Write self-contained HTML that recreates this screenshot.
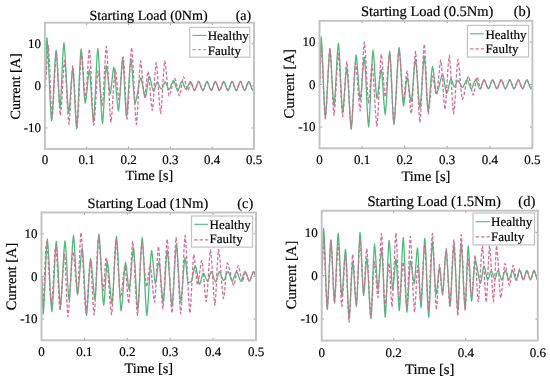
<!DOCTYPE html>
<html><head><meta charset="utf-8"><title>Starting Load</title>
<style>html,body{margin:0;padding:0;background:#fff;}body{width:550px;height:381px;overflow:hidden;}svg{display:block;text-rendering:geometricPrecision;}</style>
</head><body>
<svg width="550" height="381" viewBox="0 0 550 381">
<rect width="550" height="381" fill="#fff"/>
<defs><clipPath id="c0"><rect x="44.9" y="22.7" width="209.1" height="126.3"/></clipPath></defs>
<g clip-path="url(#c0)" fill="none" stroke-linejoin="round">
<path d="M45.1 85.5 L45.46 79.23 L45.82 68.18 L46.18 55.32 L46.54 44.27 L46.9 38 L47.26 41 L47.62 45.52 L47.98 51.42 L48.35 58.49 L48.71 66.44 L49.07 74.95 L49.43 83.65 L49.79 92.16 L50.15 100.11 L50.52 107.18 L50.88 113.08 L51.24 117.6 L51.6 120.6 L51.98 117.78 L52.35 113.45 L52.73 107.78 L53.1 101 L53.48 93.45 L53.85 85.5 L54.23 77.55 L54.6 70 L54.98 63.22 L55.35 57.55 L55.73 53.22 L56.1 50.4 L56.45 53 L56.81 57.07 L57.16 62.42 L57.52 68.77 L57.87 75.75 L58.23 82.95 L58.58 89.93 L58.94 96.28 L59.29 101.63 L59.65 105.7 L60 108.3 L60.35 105.35 L60.71 100.75 L61.06 94.7 L61.42 87.52 L61.77 79.62 L62.13 71.48 L62.48 63.58 L62.84 56.4 L63.19 50.35 L63.55 45.75 L63.9 42.8 L64.27 45.37 L64.64 49.23 L65.01 54.27 L65.38 60.31 L65.75 67.11 L66.12 74.38 L66.48 81.82 L66.85 89.09 L67.22 95.89 L67.59 101.93 L67.96 106.97 L68.33 110.83 L68.7 113.4 L69.07 111.38 L69.45 108.23 L69.82 104.08 L70.19 99.15 L70.56 93.74 L70.94 88.16 L71.31 82.75 L71.68 77.82 L72.05 73.67 L72.43 70.52 L72.8 68.5 L73.15 71.2 L73.51 75.43 L73.86 80.98 L74.22 87.57 L74.57 94.81 L74.93 102.29 L75.28 109.53 L75.64 116.12 L75.99 121.67 L76.35 125.9 L76.7 128.6 L77.07 125.39 L77.43 120.48 L77.8 114.04 L78.17 106.35 L78.53 97.78 L78.9 88.75 L79.27 79.72 L79.63 71.15 L80 63.46 L80.37 57.02 L80.73 52.11 L81.1 48.9 L81.47 51.34 L81.85 55.16 L82.22 60.17 L82.59 66.13 L82.96 72.67 L83.34 79.43 L83.71 85.97 L84.08 91.93 L84.45 96.94 L84.83 100.76 L85.2 103.2 L85.55 101.86 L85.9 99.82 L86.25 97.13 L86.6 93.93 L86.95 90.36 L87.3 86.6 L87.65 82.84 L88 79.27 L88.35 76.07 L88.7 73.38 L89.05 71.34 L89.4 70 L89.77 72.34 L90.15 76 L90.52 80.82 L90.89 86.53 L91.26 92.81 L91.64 99.29 L92.01 105.57 L92.38 111.28 L92.75 116.1 L93.13 119.76 L93.5 122.1 L93.86 119.14 L94.22 114.61 L94.58 108.67 L94.93 101.58 L95.29 93.68 L95.65 85.35 L96.01 77.02 L96.37 69.12 L96.72 62.03 L97.08 56.09 L97.44 51.56 L97.8 48.6 L98.16 51.32 L98.52 55.42 L98.88 60.77 L99.25 67.18 L99.61 74.39 L99.97 82.11 L100.33 89.99 L100.69 97.71 L101.05 104.92 L101.42 111.33 L101.78 116.68 L102.14 120.78 L102.5 123.5 L102.88 120.55 L103.26 115.85 L103.64 109.66 L104.02 102.39 L104.4 94.55 L104.78 86.71 L105.16 79.44 L105.54 73.25 L105.92 68.55 L106.3 65.6 L106.65 66.86 L107.01 68.84 L107.36 71.43 L107.72 74.52 L108.07 77.9 L108.43 81.4 L108.78 84.78 L109.14 87.87 L109.49 90.46 L109.85 92.44 L110.2 93.7 L110.56 92.35 L110.92 90.19 L111.28 87.34 L111.64 84 L112 80.4 L112.36 76.8 L112.72 73.46 L113.08 70.61 L113.44 68.45 L113.8 67.1 L114.16 68.69 L114.52 71.09 L114.88 74.22 L115.25 77.97 L115.61 82.18 L115.97 86.69 L116.33 91.31 L116.69 95.82 L117.05 100.03 L117.42 103.78 L117.78 106.91 L118.14 109.31 L118.5 110.9 L118.85 108.75 L119.2 105.46 L119.55 101.14 L119.9 95.99 L120.25 90.25 L120.6 84.2 L120.95 78.15 L121.3 72.41 L121.65 67.26 L122 62.94 L122.35 59.65 L122.7 57.5 L123.08 60.49 L123.46 65.27 L123.84 71.55 L124.22 78.94 L124.6 86.9 L124.98 94.86 L125.36 102.25 L125.74 108.53 L126.12 113.31 L126.5 116.3 L126.87 113.97 L127.23 110.4 L127.6 105.72 L127.97 100.14 L128.33 93.91 L128.7 87.35 L129.07 80.79 L129.43 74.56 L129.8 68.98 L130.17 64.3 L130.53 60.73 L130.9 58.4 L131.27 60.42 L131.65 63.56 L132.02 67.7 L132.39 72.61 L132.76 78.02 L133.14 83.58 L133.51 88.99 L133.88 93.9 L134.25 98.04 L134.63 101.18 L135 103.2 L135.36 102.49 L135.71 101.47 L136.07 100.17 L136.43 98.6 L136.78 96.8 L137.14 94.84 L137.49 92.75 L137.85 90.6 L138.21 88.45 L138.56 86.36 L138.92 84.4 L139.27 82.6 L139.63 81.03 L139.99 79.73 L140.34 78.71 L140.7 78 L141.06 78.7 L141.42 79.76 L141.78 81.14 L142.15 82.79 L142.51 84.65 L142.87 86.63 L143.23 88.67 L143.59 90.65 L143.95 92.51 L144.32 94.16 L144.68 95.54 L145.04 96.6 L145.4 97.3 L145.78 96.24 L146.16 94.54 L146.54 92.31 L146.92 89.68 L147.3 86.85 L147.68 84.02 L148.06 81.39 L148.44 79.16 L148.82 77.46 L149.2 76.4 L149.57 77 L149.93 77.92 L150.3 79.12 L150.67 80.56 L151.03 82.16 L151.4 83.85 L151.77 85.54 L152.13 87.14 L152.5 88.58 L152.87 89.78 L153.23 90.7 L153.6 91.3 L153.98 90.79 L154.36 89.95 L154.73 88.84 L155.11 87.57 L155.49 86.23 L155.87 84.96 L156.24 83.85 L156.62 83.01 L157 82.5 L157.37 82.76 L157.73 83.16 L158.1 83.69 L158.47 84.31 L158.83 85.01 L159.2 85.75 L159.57 86.49 L159.93 87.19 L160.3 87.81 L160.67 88.34 L161.03 88.74 L161.4 89 L161.78 88.64 L162.16 88.06 L162.54 87.3 L162.92 86.41 L163.3 85.45 L163.68 84.49 L164.06 83.6 L164.44 82.84 L164.82 82.26 L165.2 81.9 L165.58 82.29 L165.96 82.92 L166.34 83.74 L166.72 84.71 L167.1 85.75 L167.48 86.79 L167.86 87.76 L168.24 88.58 L168.62 89.21 L169 89.6 L169.38 89.23 L169.75 88.67 L170.12 87.94 L170.5 87.06 L170.88 86.08 L171.25 85.05 L171.62 84.02 L172 83.04 L172.38 82.16 L172.75 81.43 L173.12 80.87 L173.5 80.5 L173.88 80.96 L174.26 81.68 L174.65 82.62 L175.03 83.74 L175.41 84.97 L175.79 86.23 L176.17 87.46 L176.55 88.58 L176.94 89.52 L177.32 90.24 L177.7 90.7 L178.07 90.28 L178.45 89.63 L178.82 88.77 L179.19 87.75 L179.56 86.63 L179.94 85.47 L180.31 84.35 L180.68 83.33 L181.05 82.47 L181.43 81.82 L181.8 81.4 L182.17 81.73 L182.53 82.24 L182.9 82.9 L183.27 83.69 L183.63 84.57 L184 85.5 L184.37 86.43 L184.73 87.31 L185.1 88.1 L185.47 88.76 L185.83 89.27 L186.2 89.6 L186.57 89.24 L186.95 88.67 L187.32 87.92 L187.69 87.03 L188.06 86.05 L188.44 85.05 L188.81 84.07 L189.18 83.18 L189.55 82.43 L189.93 81.86 L190.3 81.5 L190.68 81.9 L191.06 82.54 L191.44 83.37 L191.82 84.36 L192.2 85.44 L192.58 86.56 L192.96 87.64 L193.34 88.63 L193.72 89.46 L194.1 90.1 L194.48 90.5 L194.86 90.1 L195.24 89.46 L195.62 88.63 L196 87.64 L196.38 86.56 L196.76 85.44 L197.14 84.36 L197.52 83.37 L197.9 82.54 L198.28 81.9 L198.66 81.5 L199.04 81.9 L199.42 82.54 L199.8 83.37 L200.18 84.36 L200.56 85.44 L200.94 86.56 L201.32 87.64 L201.7 88.63 L202.08 89.46 L202.46 90.1 L202.84 90.5 L203.22 90.1 L203.6 89.46 L203.98 88.63 L204.36 87.64 L204.74 86.56 L205.12 85.44 L205.5 84.36 L205.88 83.37 L206.26 82.54 L206.64 81.9 L207.02 81.5 L207.4 81.9 L207.78 82.54 L208.16 83.37 L208.54 84.36 L208.92 85.44 L209.3 86.56 L209.68 87.64 L210.06 88.63 L210.44 89.46 L210.82 90.1 L211.2 90.5 L211.58 90.1 L211.96 89.46 L212.34 88.63 L212.72 87.64 L213.1 86.56 L213.48 85.44 L213.86 84.36 L214.24 83.37 L214.62 82.54 L215 81.9 L215.38 81.5 L215.76 81.9 L216.14 82.54 L216.52 83.37 L216.9 84.36 L217.28 85.44 L217.66 86.56 L218.04 87.64 L218.42 88.63 L218.8 89.46 L219.18 90.1 L219.56 90.5 L219.94 90.1 L220.32 89.46 L220.7 88.63 L221.08 87.64 L221.46 86.56 L221.84 85.44 L222.22 84.36 L222.6 83.37 L222.98 82.54 L223.36 81.9 L223.74 81.5 L224.12 81.9 L224.5 82.54 L224.88 83.37 L225.26 84.36 L225.64 85.44 L226.02 86.56 L226.4 87.64 L226.78 88.63 L227.16 89.46 L227.54 90.1 L227.92 90.5 L228.3 90.1 L228.68 89.46 L229.06 88.63 L229.44 87.64 L229.82 86.56 L230.2 85.44 L230.58 84.36 L230.96 83.37 L231.34 82.54 L231.72 81.9 L232.1 81.5 L232.48 81.9 L232.86 82.54 L233.24 83.37 L233.62 84.36 L234 85.44 L234.38 86.56 L234.76 87.64 L235.14 88.63 L235.52 89.46 L235.9 90.1 L236.28 90.5 L236.66 90.1 L237.04 89.46 L237.42 88.63 L237.8 87.64 L238.18 86.56 L238.56 85.44 L238.94 84.36 L239.32 83.37 L239.7 82.54 L240.08 81.9 L240.46 81.5 L240.84 81.9 L241.22 82.54 L241.6 83.37 L241.98 84.36 L242.36 85.44 L242.74 86.56 L243.12 87.64 L243.5 88.63 L243.88 89.46 L244.26 90.1 L244.64 90.5 L245.02 90.1 L245.4 89.46 L245.78 88.63 L246.16 87.64 L246.54 86.56 L246.92 85.44 L247.3 84.36 L247.68 83.37 L248.06 82.54 L248.44 81.9 L248.82 81.5 L249.2 81.9 L249.58 82.54 L249.96 83.37 L250.34 84.36 L250.72 85.44 L251.1 86.56 L251.48 87.64 L251.86 88.63 L252.24 89.46 L252.62 90.1 L253 90.5 L253.38 90.1 L253.76 89.46 L254.14 88.63 L254.52 87.64 L254.9 86.56 L255.28 85.44 L255.66 84.36 L256.04 83.37 L256.42 82.54 L256.8 81.9 L257.18 81.5 L257.56 81.9 L257.94 82.54 L258.32 83.37 L258.7 84.36 L259.08 85.44 L259.46 86.56 L259.84 87.64 L260.22 88.63 L260.6 89.46 L260.98 90.1 L261.36 90.5" stroke="#4fb97c" stroke-width="1.3"/>
<path d="M45.1 85.5 L45.47 83.17 L45.83 79.36 L46.2 74.36 L46.57 68.58 L46.93 62.52 L47.3 56.74 L47.67 51.74 L48.03 47.93 L48.4 45.6 L48.76 49.31 L49.12 55.23 L49.48 63.02 L49.84 72.18 L50.2 82.05 L50.56 91.92 L50.92 101.08 L51.28 108.87 L51.64 114.79 L52 118.5 L52.37 115.82 L52.73 111.7 L53.1 106.31 L53.47 99.88 L53.83 92.71 L54.2 85.15 L54.57 77.59 L54.93 70.42 L55.3 63.99 L55.67 58.6 L56.03 54.48 L56.4 51.8 L56.76 54.67 L57.13 59.14 L57.49 65.03 L57.85 72.01 L58.22 79.69 L58.58 87.61 L58.95 95.29 L59.31 102.27 L59.67 108.16 L60.04 112.63 L60.4 115.5 L60.77 113.03 L61.15 109.16 L61.52 104.08 L61.89 98.05 L62.26 91.42 L62.64 84.58 L63.01 77.95 L63.38 71.92 L63.75 66.84 L64.13 62.97 L64.5 60.5 L64.88 63.07 L65.25 67 L65.62 72.16 L66 78.31 L66.38 85.17 L66.75 92.4 L67.12 99.63 L67.5 106.49 L67.88 112.64 L68.25 117.8 L68.62 121.73 L69 124.3 L69.38 121.31 L69.76 116.55 L70.14 110.27 L70.52 102.9 L70.9 94.95 L71.28 87 L71.66 79.63 L72.04 73.35 L72.42 68.59 L72.8 65.6 L73.15 68.08 L73.5 71.88 L73.85 76.85 L74.2 82.8 L74.55 89.42 L74.9 96.4 L75.25 103.38 L75.6 110 L75.95 115.95 L76.3 120.92 L76.65 124.72 L77 127.2 L77.38 124.19 L77.75 119.59 L78.12 113.55 L78.5 106.35 L78.88 98.31 L79.25 89.85 L79.62 81.39 L80 73.35 L80.38 66.15 L80.75 60.11 L81.12 55.51 L81.5 52.5 L81.86 54.61 L82.23 57.92 L82.59 62.26 L82.95 67.41 L83.32 73.08 L83.68 78.92 L84.05 84.59 L84.41 89.74 L84.77 94.08 L85.14 97.39 L85.5 99.5 L85.85 97.22 L86.21 93.67 L86.56 88.99 L86.92 83.45 L87.27 77.35 L87.63 71.05 L87.98 64.95 L88.34 59.41 L88.69 54.73 L89.05 51.18 L89.4 48.9 L89.77 51.96 L90.13 56.65 L90.5 62.8 L90.87 70.14 L91.23 78.33 L91.6 86.95 L91.97 95.57 L92.33 103.76 L92.7 111.1 L93.07 117.25 L93.43 121.94 L93.8 125 L94.15 122.81 L94.5 119.47 L94.85 115.08 L95.2 109.84 L95.55 104 L95.9 97.85 L96.25 91.7 L96.6 85.86 L96.95 80.62 L97.3 76.23 L97.65 72.89 L98 70.7 L98.36 72.1 L98.72 74.24 L99.08 77.04 L99.43 80.39 L99.79 84.12 L100.15 88.05 L100.51 91.98 L100.87 95.71 L101.22 99.06 L101.58 101.86 L101.94 104 L102.3 105.4 L102.66 102.74 L103.03 98.59 L103.39 93.13 L103.75 86.65 L104.12 79.52 L104.48 72.18 L104.85 65.05 L105.21 58.57 L105.57 53.11 L105.94 48.96 L106.3 46.3 L106.65 49.06 L107.01 53.2 L107.36 58.62 L107.72 65.1 L108.07 72.4 L108.42 80.21 L108.78 88.19 L109.13 96 L109.48 103.3 L109.84 109.78 L110.19 115.2 L110.55 119.34 L110.9 122.1 L111.27 119.98 L111.63 116.72 L112 112.45 L112.37 107.36 L112.73 101.68 L113.1 95.7 L113.47 89.72 L113.83 84.04 L114.2 78.95 L114.57 74.68 L114.93 71.42 L115.3 69.3 L115.67 70.84 L116.04 73.29 L116.41 76.52 L116.78 80.31 L117.15 84.4 L117.52 88.49 L117.89 92.28 L118.26 95.51 L118.63 97.96 L119 99.5 L119.36 97.79 L119.72 95.17 L120.08 91.74 L120.43 87.64 L120.79 83.06 L121.15 78.25 L121.51 73.44 L121.87 68.86 L122.22 64.76 L122.58 61.33 L122.94 58.71 L123.3 57 L123.67 60.17 L124.04 65.21 L124.41 71.86 L124.78 79.68 L125.15 88.1 L125.52 96.52 L125.89 104.34 L126.26 110.99 L126.63 116.03 L127 119.2 L127.35 116.59 L127.71 112.67 L128.06 107.55 L128.42 101.41 L128.77 94.51 L129.12 87.12 L129.48 79.58 L129.83 72.19 L130.18 65.29 L130.54 59.15 L130.89 54.03 L131.25 50.11 L131.6 47.5 L131.97 50.29 L132.34 54.49 L132.71 59.98 L133.08 66.55 L133.45 73.95 L133.82 81.86 L134.18 89.94 L134.55 97.85 L134.92 105.25 L135.29 111.82 L135.66 117.31 L136.03 121.51 L136.4 124.3 L136.78 121.45 L137.16 117.01 L137.55 111.16 L137.93 104.22 L138.31 96.58 L138.69 88.72 L139.07 81.08 L139.45 74.14 L139.84 68.29 L140.22 63.85 L140.6 61 L140.95 62.62 L141.31 65.15 L141.66 68.47 L142.02 72.42 L142.37 76.76 L142.73 81.24 L143.08 85.58 L143.44 89.53 L143.79 92.85 L144.15 95.38 L144.5 97 L144.86 95.7 L145.22 93.62 L145.58 90.88 L145.94 87.67 L146.3 84.2 L146.66 80.73 L147.02 77.52 L147.38 74.78 L147.74 72.7 L148.1 71.4 L148.45 72.97 L148.8 75.38 L149.15 78.54 L149.5 82.32 L149.85 86.52 L150.2 90.95 L150.55 95.38 L150.9 99.58 L151.25 103.36 L151.6 106.52 L151.95 108.93 L152.3 110.5 L152.65 108.35 L153.01 104.98 L153.36 100.55 L153.72 95.3 L154.07 89.53 L154.43 83.57 L154.78 77.8 L155.14 72.55 L155.49 68.12 L155.85 64.75 L156.2 62.6 L156.57 64.64 L156.95 67.78 L157.32 71.88 L157.7 76.78 L158.07 82.25 L158.45 88 L158.82 93.75 L159.2 99.22 L159.57 104.12 L159.95 108.22 L160.32 111.36 L160.7 113.4 L161.06 111.04 L161.43 107.36 L161.79 102.52 L162.15 96.78 L162.52 90.46 L162.88 83.94 L163.25 77.62 L163.61 71.88 L163.97 67.04 L164.34 63.36 L164.7 61 L165.06 62.4 L165.42 64.55 L165.77 67.36 L166.13 70.72 L166.49 74.46 L166.85 78.4 L167.21 82.34 L167.57 86.08 L167.93 89.44 L168.28 92.25 L168.64 94.4 L169 95.8 L169.36 95.31 L169.72 94.62 L170.09 93.72 L170.45 92.64 L170.81 91.41 L171.18 90.06 L171.54 88.63 L171.9 87.15 L172.26 85.67 L172.62 84.24 L172.99 82.89 L173.35 81.66 L173.71 80.58 L174.08 79.68 L174.44 78.99 L174.8 78.5 L175.15 79.13 L175.51 80.08 L175.86 81.31 L176.22 82.79 L176.57 84.46 L176.92 86.24 L177.28 88.06 L177.63 89.84 L177.98 91.51 L178.34 92.99 L178.69 94.22 L179.05 95.17 L179.4 95.8 L179.77 94.95 L180.15 93.61 L180.52 91.86 L180.89 89.77 L181.26 87.48 L181.64 85.12 L182.01 82.83 L182.38 80.74 L182.75 78.99 L183.13 77.65 L183.5 76.8 L183.88 77.36 L184.25 78.21 L184.62 79.32 L185 80.65 L185.38 82.14 L185.75 83.7 L186.12 85.26 L186.5 86.75 L186.88 88.08 L187.25 89.19 L187.62 90.04 L188 90.6 L188.35 90.01 L188.7 89.03 L189.05 87.75 L189.4 86.3 L189.75 84.85 L190.1 83.57 L190.45 82.59 L190.8 82 L191.17 82.43 L191.54 83.12 L191.91 84.03 L192.28 85.1 L192.65 86.25 L193.02 87.4 L193.39 88.47 L193.76 89.38 L194.13 90.07 L194.5 90.5 L194.88 90.1 L195.26 89.46 L195.63 88.63 L196.01 87.64 L196.39 86.56 L196.77 85.44 L197.15 84.36 L197.53 83.37 L197.9 82.54 L198.28 81.9 L198.66 81.5 L199.04 81.9 L199.42 82.54 L199.8 83.37 L200.18 84.36 L200.56 85.44 L200.94 86.56 L201.32 87.64 L201.7 88.63 L202.08 89.46 L202.46 90.1 L202.84 90.5 L203.22 90.1 L203.6 89.46 L203.98 88.63 L204.36 87.64 L204.74 86.56 L205.12 85.44 L205.5 84.36 L205.88 83.37 L206.26 82.54 L206.64 81.9 L207.02 81.5 L207.4 81.9 L207.78 82.54 L208.16 83.37 L208.54 84.36 L208.92 85.44 L209.3 86.56 L209.68 87.64 L210.06 88.63 L210.44 89.46 L210.82 90.1 L211.2 90.5 L211.58 90.1 L211.96 89.46 L212.34 88.63 L212.72 87.64 L213.1 86.56 L213.48 85.44 L213.86 84.36 L214.24 83.37 L214.62 82.54 L215 81.9 L215.38 81.5 L215.76 81.9 L216.14 82.54 L216.52 83.37 L216.9 84.36 L217.28 85.44 L217.66 86.56 L218.04 87.64 L218.42 88.63 L218.8 89.46 L219.18 90.1 L219.56 90.5 L219.94 90.1 L220.32 89.46 L220.7 88.63 L221.08 87.64 L221.46 86.56 L221.84 85.44 L222.22 84.36 L222.6 83.37 L222.98 82.54 L223.36 81.9 L223.74 81.5 L224.12 81.9 L224.5 82.54 L224.88 83.37 L225.26 84.36 L225.64 85.44 L226.02 86.56 L226.4 87.64 L226.78 88.63 L227.16 89.46 L227.54 90.1 L227.92 90.5 L228.3 90.1 L228.68 89.46 L229.06 88.63 L229.44 87.64 L229.82 86.56 L230.2 85.44 L230.58 84.36 L230.96 83.37 L231.34 82.54 L231.72 81.9 L232.1 81.5 L232.48 81.9 L232.86 82.54 L233.24 83.37 L233.62 84.36 L234 85.44 L234.38 86.56 L234.76 87.64 L235.14 88.63 L235.52 89.46 L235.9 90.1 L236.28 90.5 L236.66 90.1 L237.04 89.46 L237.42 88.63 L237.8 87.64 L238.18 86.56 L238.56 85.44 L238.94 84.36 L239.32 83.37 L239.7 82.54 L240.08 81.9 L240.46 81.5 L240.84 81.9 L241.22 82.54 L241.6 83.37 L241.98 84.36 L242.36 85.44 L242.74 86.56 L243.12 87.64 L243.5 88.63 L243.88 89.46 L244.26 90.1 L244.64 90.5 L245.02 90.1 L245.4 89.46 L245.78 88.63 L246.16 87.64 L246.54 86.56 L246.92 85.44 L247.3 84.36 L247.68 83.37 L248.06 82.54 L248.44 81.9 L248.82 81.5 L249.2 81.9 L249.58 82.54 L249.96 83.37 L250.34 84.36 L250.72 85.44 L251.1 86.56 L251.48 87.64 L251.86 88.63 L252.24 89.46 L252.62 90.1 L253 90.5 L253.38 90.1 L253.76 89.46 L254.14 88.63 L254.52 87.64 L254.9 86.56 L255.28 85.44 L255.66 84.36 L256.04 83.37 L256.42 82.54 L256.8 81.9 L257.18 81.5 L257.56 81.9 L257.94 82.54 L258.32 83.37 L258.7 84.36 L259.08 85.44 L259.46 86.56 L259.84 87.64 L260.22 88.63 L260.6 89.46 L260.98 90.1 L261.36 90.5" stroke="#d36f95" stroke-width="1.3" stroke-dasharray="3.4 1.9"/>
</g>
<path d="M44.9 149v-2.4 M44.9 22.7v2.4 M86.72 149v-2.4 M86.72 22.7v2.4 M128.54 149v-2.4 M128.54 22.7v2.4 M170.36 149v-2.4 M170.36 22.7v2.4 M212.18 149v-2.4 M212.18 22.7v2.4 M254 149v-2.4 M254 22.7v2.4 M44.9 127.95h2.4 M254 127.95h-2.4 M44.9 85.85h2.4 M254 85.85h-2.4 M44.9 43.75h2.4 M254 43.75h-2.4" stroke="#9a9a9a" stroke-width="1" fill="none"/>
<rect x="44.9" y="22.7" width="209.1" height="126.3" fill="none" stroke="#c2c2c2" stroke-width="1.9"/>
<g font-family='"Liberation Serif", "Times New Roman", serif' font-size="13" fill="#000" stroke="#000" stroke-width="0.18">
<text x="44.9" y="164" text-anchor="middle">0</text>
<text x="86.72" y="164" text-anchor="middle">0.1</text>
<text x="128.54" y="164" text-anchor="middle">0.2</text>
<text x="170.36" y="164" text-anchor="middle">0.3</text>
<text x="212.18" y="164" text-anchor="middle">0.4</text>
<text x="254" y="164" text-anchor="middle">0.5</text>
<text x="41" y="48.15" text-anchor="end">10</text>
<text x="41" y="90.25" text-anchor="end">0</text>
<text x="41" y="132.35" text-anchor="end">-10</text>
</g>
<g font-family='"Liberation Serif", "Times New Roman", serif' font-size="14.1" fill="#000" stroke="#000" stroke-width="0.18">
<text x="89.5" y="19.6">Starting Load (0Nm)</text>
<text x="251.3" y="19.6" text-anchor="end">(a)</text>
<text x="149.45" y="179.9" text-anchor="middle">Time [s]</text>
<text transform="translate(20 86.4) rotate(-90)" text-anchor="middle" font-size="14.1">Current [A]</text>
</g>
<rect x="189.7" y="27.4" width="60.1" height="29.8" fill="#fff" stroke="#c2c2c2" stroke-width="1.2"/>
<path d="M192.4 35.4h14" stroke="#4fb97c" stroke-width="1.1"/>
<path d="M192.4 49.7h14" stroke="#d36f95" stroke-width="1.1" stroke-dasharray="3.4 2"/>
<g font-family='"Liberation Serif", "Times New Roman", serif' font-size="13" fill="#000" stroke="#000" stroke-width="0.18">
<text x="207.7" y="40">Healthy</text>
<text x="207.7" y="54.5">Faulty</text>
</g>
<defs><clipPath id="c1"><rect x="319.5" y="20.8" width="212.9" height="127.5"/></clipPath></defs>
<g clip-path="url(#c1)" fill="none" stroke-linejoin="round">
<path d="M319.6 84.5 L320 75.82 L320.4 60.75 L320.8 45.68 L321.2 37 L321.57 40.62 L321.95 46.28 L322.32 53.71 L322.69 62.54 L323.06 72.25 L323.44 82.25 L323.81 91.96 L324.18 100.79 L324.55 108.22 L324.93 113.88 L325.3 117.5 L325.65 115.06 L326.01 111.4 L326.36 106.61 L326.72 100.88 L327.07 94.43 L327.42 87.53 L327.78 80.47 L328.13 73.57 L328.48 67.12 L328.84 61.39 L329.19 56.6 L329.55 52.94 L329.9 50.5 L330.27 52.99 L330.65 56.87 L331.02 61.98 L331.39 68.04 L331.76 74.71 L332.14 81.59 L332.51 88.26 L332.88 94.32 L333.25 99.43 L333.63 103.31 L334 105.8 L334.37 103.28 L334.73 99.43 L335.1 94.38 L335.47 88.35 L335.83 81.63 L336.2 74.55 L336.57 67.47 L336.93 60.75 L337.3 54.72 L337.67 49.67 L338.03 45.82 L338.4 43.3 L338.76 46.05 L339.12 50.26 L339.47 55.78 L339.83 62.37 L340.19 69.71 L340.55 77.45 L340.91 85.19 L341.27 92.53 L341.62 99.12 L341.98 104.64 L342.34 108.85 L342.7 111.6 L343.07 109.61 L343.45 106.5 L343.82 102.4 L344.19 97.55 L344.56 92.2 L344.94 86.7 L345.31 81.35 L345.68 76.5 L346.05 72.4 L346.43 69.29 L346.8 67.3 L347.17 69.79 L347.53 73.6 L347.9 78.59 L348.27 84.55 L348.63 91.2 L349 98.2 L349.37 105.2 L349.73 111.85 L350.1 117.81 L350.47 122.8 L350.83 126.61 L351.2 129.1 L351.55 126.64 L351.9 123 L352.25 118.27 L352.6 112.6 L352.95 106.17 L353.3 99.22 L353.65 92 L354 84.78 L354.35 77.83 L354.7 71.4 L355.05 65.73 L355.4 61 L355.75 57.36 L356.1 54.9 L356.47 56.93 L356.85 60.1 L357.22 64.26 L357.59 69.21 L357.96 74.65 L358.34 80.25 L358.71 85.69 L359.08 90.64 L359.45 94.8 L359.83 97.97 L360.2 100 L360.57 98.07 L360.95 95.06 L361.32 91.09 L361.69 86.39 L362.06 81.22 L362.44 75.88 L362.81 70.71 L363.18 66.01 L363.55 62.04 L363.93 59.03 L364.3 57.1 L364.66 59.91 L365.02 64.21 L365.38 69.85 L365.73 76.59 L366.09 84.09 L366.45 92 L366.81 99.91 L367.17 107.41 L367.53 114.15 L367.88 119.79 L368.24 124.09 L368.6 126.9 L368.97 123.83 L369.33 119.12 L369.7 112.94 L370.07 105.57 L370.43 97.35 L370.8 88.7 L371.17 80.05 L371.53 71.83 L371.9 64.46 L372.27 58.28 L372.63 53.57 L373 50.5 L373.35 52.66 L373.71 56.03 L374.06 60.47 L374.42 65.73 L374.77 71.52 L375.13 77.48 L375.48 83.27 L375.84 88.53 L376.19 92.97 L376.55 96.34 L376.9 98.5 L377.27 97.33 L377.63 95.55 L378 93.2 L378.37 90.4 L378.73 87.29 L379.1 84 L379.47 80.71 L379.83 77.6 L380.2 74.8 L380.57 72.45 L380.93 70.67 L381.3 69.5 L381.65 71.52 L382.01 74.69 L382.36 78.84 L382.72 83.78 L383.07 89.2 L383.43 94.8 L383.78 100.22 L384.14 105.16 L384.49 109.31 L384.85 112.48 L385.2 114.5 L385.57 111.96 L385.95 108.06 L386.32 102.95 L386.7 96.86 L387.07 90.06 L387.45 82.9 L387.82 75.74 L388.2 68.94 L388.57 62.85 L388.95 57.74 L389.32 53.84 L389.7 51.3 L390.08 54.57 L390.46 59.68 L390.85 66.39 L391.23 74.37 L391.61 83.13 L391.99 92.17 L392.37 100.93 L392.75 108.91 L393.14 115.62 L393.52 120.73 L393.9 124 L394.27 121.47 L394.64 117.72 L395.01 112.85 L395.39 107.01 L395.76 100.39 L396.13 93.24 L396.5 85.8 L396.87 78.36 L397.24 71.21 L397.61 64.59 L397.99 58.75 L398.36 53.88 L398.73 50.13 L399.1 47.6 L399.47 49.94 L399.83 53.53 L400.2 58.23 L400.57 63.85 L400.93 70.11 L401.3 76.7 L401.67 83.29 L402.03 89.55 L402.4 95.17 L402.77 99.87 L403.13 103.46 L403.5 105.8 L403.86 104.36 L404.22 102.06 L404.58 99.04 L404.94 95.48 L405.3 91.65 L405.66 87.82 L406.02 84.26 L406.38 81.24 L406.74 78.94 L407.1 77.5 L407.47 78.58 L407.85 80.27 L408.22 82.48 L408.59 85.11 L408.96 88.01 L409.34 90.99 L409.71 93.89 L410.08 96.52 L410.45 98.73 L410.83 100.42 L411.2 101.5 L411.56 99.8 L411.92 97.2 L412.27 93.79 L412.63 89.72 L412.99 85.18 L413.35 80.4 L413.71 75.62 L414.07 71.08 L414.43 67.01 L414.78 63.6 L415.14 61 L415.5 59.3 L415.87 61.26 L416.23 64.26 L416.6 68.2 L416.97 72.9 L417.33 78.13 L417.7 83.65 L418.07 89.17 L418.43 94.4 L418.8 99.1 L419.17 103.04 L419.53 106.04 L419.9 108 L420.27 105.92 L420.63 102.74 L421 98.57 L421.37 93.59 L421.73 88.05 L422.1 82.2 L422.47 76.35 L422.83 70.81 L423.2 65.83 L423.57 61.66 L423.93 58.48 L424.3 56.4 L424.65 58.85 L425.01 62.68 L425.36 67.72 L425.72 73.69 L426.07 80.26 L426.43 87.04 L426.78 93.61 L427.14 99.58 L427.49 104.62 L427.85 108.45 L428.2 110.9 L428.56 109.11 L428.92 106.38 L429.27 102.79 L429.63 98.51 L429.99 93.73 L430.35 88.7 L430.71 83.67 L431.07 78.9 L431.43 74.61 L431.78 71.02 L432.14 68.29 L432.5 66.5 L432.86 67.71 L433.23 69.61 L433.59 72.11 L433.95 75.07 L434.32 78.32 L434.68 81.68 L435.05 84.93 L435.41 87.89 L435.77 90.39 L436.14 92.29 L436.5 93.5 L436.86 93 L437.23 92.3 L437.59 91.4 L437.96 90.32 L438.32 89.09 L438.69 87.73 L439.05 86.28 L439.42 84.77 L439.78 83.23 L440.15 81.72 L440.51 80.27 L440.88 78.91 L441.24 77.68 L441.61 76.6 L441.97 75.7 L442.34 75 L442.7 74.5 L443.06 75.35 L443.43 76.69 L443.79 78.44 L444.15 80.53 L444.52 82.82 L444.88 85.18 L445.25 87.47 L445.61 89.56 L445.97 91.31 L446.34 92.65 L446.7 93.5 L447.06 92.91 L447.42 92.01 L447.77 90.83 L448.13 89.42 L448.49 87.85 L448.85 86.2 L449.21 84.55 L449.57 82.98 L449.93 81.57 L450.28 80.39 L450.64 79.49 L451 78.9 L451.38 79.37 L451.76 80.13 L452.13 81.13 L452.51 82.29 L452.89 83.51 L453.27 84.67 L453.64 85.67 L454.02 86.43 L454.4 86.9 L454.76 86.57 L455.12 86.04 L455.48 85.35 L455.84 84.53 L456.2 83.65 L456.56 82.77 L456.92 81.95 L457.28 81.26 L457.64 80.73 L458 80.4 L458.37 80.69 L458.73 81.13 L459.1 81.72 L459.47 82.41 L459.83 83.18 L460.2 84 L460.57 84.82 L460.93 85.59 L461.3 86.28 L461.67 86.87 L462.03 87.31 L462.4 87.6 L462.75 87.32 L463.11 86.89 L463.46 86.33 L463.82 85.67 L464.17 84.91 L464.52 84.11 L464.88 83.29 L465.23 82.49 L465.58 81.73 L465.94 81.07 L466.29 80.51 L466.65 80.08 L467 79.8 L467.36 80.16 L467.71 80.72 L468.07 81.44 L468.43 82.31 L468.78 83.28 L469.14 84.3 L469.49 85.32 L469.85 86.29 L470.21 87.16 L470.56 87.88 L470.92 88.44 L471.27 88.8 L471.63 88.44 L471.99 87.88 L472.34 87.16 L472.7 86.29 L473.06 85.32 L473.41 84.3 L473.77 83.28 L474.12 82.31 L474.48 81.44 L474.84 80.72 L475.19 80.16 L475.55 79.8 L475.91 80.16 L476.26 80.72 L476.62 81.44 L476.98 82.31 L477.33 83.28 L477.69 84.3 L478.04 85.32 L478.4 86.29 L478.76 87.16 L479.11 87.88 L479.47 88.44 L479.82 88.8 L480.18 88.44 L480.54 87.88 L480.89 87.16 L481.25 86.29 L481.61 85.32 L481.96 84.3 L482.32 83.28 L482.68 82.31 L483.03 81.44 L483.39 80.72 L483.74 80.16 L484.1 79.8 L484.46 80.16 L484.81 80.72 L485.17 81.44 L485.53 82.31 L485.88 83.28 L486.24 84.3 L486.59 85.32 L486.95 86.29 L487.31 87.16 L487.66 87.88 L488.02 88.44 L488.38 88.8 L488.73 88.44 L489.09 87.88 L489.44 87.16 L489.8 86.29 L490.16 85.32 L490.51 84.3 L490.87 83.28 L491.22 82.31 L491.58 81.44 L491.94 80.72 L492.29 80.16 L492.65 79.8 L493.01 80.16 L493.36 80.72 L493.72 81.44 L494.07 82.31 L494.43 83.28 L494.79 84.3 L495.14 85.32 L495.5 86.29 L495.86 87.16 L496.21 87.88 L496.57 88.44 L496.93 88.8 L497.28 88.44 L497.64 87.88 L497.99 87.16 L498.35 86.29 L498.71 85.32 L499.06 84.3 L499.42 83.28 L499.77 82.31 L500.13 81.44 L500.49 80.72 L500.84 80.16 L501.2 79.8 L501.56 80.16 L501.91 80.72 L502.27 81.44 L502.62 82.31 L502.98 83.28 L503.34 84.3 L503.69 85.32 L504.05 86.29 L504.41 87.16 L504.76 87.88 L505.12 88.44 L505.48 88.8 L505.83 88.44 L506.19 87.88 L506.54 87.16 L506.9 86.29 L507.26 85.32 L507.61 84.3 L507.97 83.28 L508.32 82.31 L508.68 81.44 L509.04 80.72 L509.39 80.16 L509.75 79.8 L510.11 80.16 L510.46 80.72 L510.82 81.44 L511.18 82.31 L511.53 83.28 L511.89 84.3 L512.24 85.32 L512.6 86.29 L512.96 87.16 L513.31 87.88 L513.67 88.44 L514.02 88.8 L514.38 88.44 L514.74 87.88 L515.09 87.16 L515.45 86.29 L515.81 85.32 L516.16 84.3 L516.52 83.28 L516.88 82.31 L517.23 81.44 L517.59 80.72 L517.94 80.16 L518.3 79.8 L518.66 80.16 L519.01 80.72 L519.37 81.44 L519.73 82.31 L520.08 83.28 L520.44 84.3 L520.79 85.32 L521.15 86.29 L521.51 87.16 L521.86 87.88 L522.22 88.44 L522.58 88.8 L522.93 88.44 L523.29 87.88 L523.64 87.16 L524 86.29 L524.36 85.32 L524.71 84.3 L525.07 83.28 L525.43 82.31 L525.78 81.44 L526.14 80.72 L526.49 80.16 L526.85 79.8 L527.21 80.16 L527.56 80.72 L527.92 81.44 L528.27 82.31 L528.63 83.28 L528.99 84.3 L529.34 85.32 L529.7 86.29 L530.06 87.16 L530.41 87.88 L530.77 88.44 L531.12 88.8 L531.48 88.44 L531.84 87.88 L532.19 87.16 L532.55 86.29 L532.91 85.32 L533.26 84.3 L533.62 83.28 L533.98 82.31 L534.33 81.44 L534.69 80.72 L535.04 80.16 L535.4 79.8 L535.76 80.16 L536.11 80.72 L536.47 81.44 L536.82 82.31 L537.18 83.28 L537.54 84.3 L537.89 85.32 L538.25 86.29 L538.61 87.16 L538.96 87.88 L539.32 88.44 L539.67 88.8" stroke="#4fb97c" stroke-width="1.3"/>
<path d="M319.6 84.5 L320 77.38 L320.4 65 L320.8 52.62 L321.2 45.5 L321.57 48.8 L321.95 53.96 L322.32 60.74 L322.69 68.79 L323.06 77.64 L323.44 86.76 L323.81 95.61 L324.18 103.66 L324.55 110.44 L324.93 115.6 L325.3 118.9 L325.65 116.31 L326.01 112.41 L326.36 107.31 L326.72 101.21 L327.07 94.35 L327.42 87 L327.78 79.5 L328.13 72.15 L328.48 65.29 L328.84 59.19 L329.19 54.09 L329.55 50.19 L329.9 47.6 L330.27 50.65 L330.65 55.4 L331.02 61.66 L331.39 69.08 L331.76 77.24 L332.14 85.66 L332.51 93.82 L332.88 101.24 L333.25 107.5 L333.63 112.25 L334 115.3 L334.37 112.81 L334.73 109 L335.1 104.01 L335.47 98.05 L335.83 91.4 L336.2 84.4 L336.57 77.4 L336.93 70.75 L337.3 64.79 L337.67 59.8 L338.03 55.99 L338.4 53.5 L338.76 56.04 L339.12 59.94 L339.47 65.05 L339.83 71.14 L340.19 77.94 L340.55 85.1 L340.91 92.26 L341.27 99.06 L341.62 105.15 L341.98 110.26 L342.34 114.16 L342.7 116.7 L343.07 114.22 L343.45 110.34 L343.82 105.24 L344.19 99.19 L344.56 92.53 L344.94 85.67 L345.31 79.01 L345.68 72.96 L346.05 67.86 L346.43 63.98 L346.8 61.5 L347.17 64.16 L347.53 68.23 L347.9 73.58 L348.27 79.95 L348.63 87.06 L349 94.55 L349.37 102.04 L349.73 109.15 L350.1 115.52 L350.47 120.87 L350.83 124.94 L351.2 127.6 L351.56 125 L351.92 121.02 L352.27 115.8 L352.63 109.57 L352.99 102.62 L353.35 95.3 L353.71 87.98 L354.07 81.03 L354.43 74.8 L354.78 69.58 L355.14 65.6 L355.5 63 L355.86 64.74 L356.22 67.36 L356.58 70.78 L356.95 74.88 L357.31 79.5 L357.67 84.43 L358.03 89.47 L358.39 94.4 L358.75 99.02 L359.12 103.12 L359.48 106.54 L359.84 109.16 L360.2 110.9 L360.57 107.79 L360.95 102.94 L361.32 96.55 L361.69 88.98 L362.06 80.65 L362.44 72.05 L362.81 63.72 L363.18 56.15 L363.55 49.76 L363.93 44.91 L364.3 41.8 L364.66 44.26 L365.02 48.02 L365.38 52.96 L365.73 58.86 L366.09 65.43 L366.45 72.35 L366.81 79.27 L367.17 85.84 L367.53 91.74 L367.88 96.68 L368.24 100.44 L368.6 102.9 L368.95 100.94 L369.3 97.82 L369.65 93.7 L370 88.86 L370.35 83.65 L370.7 78.44 L371.05 73.6 L371.4 69.48 L371.75 66.36 L372.1 64.4 L372.47 66.65 L372.84 70.03 L373.21 74.44 L373.58 79.73 L373.95 85.68 L374.32 92.05 L374.68 98.55 L375.05 104.92 L375.42 110.87 L375.79 116.16 L376.16 120.57 L376.53 123.95 L376.9 126.2 L377.27 123.3 L377.63 118.86 L378 113.05 L378.37 106.1 L378.73 98.36 L379.1 90.2 L379.47 82.04 L379.83 74.3 L380.2 67.35 L380.57 61.54 L380.93 57.1 L381.3 54.2 L381.65 56.13 L382.01 59.13 L382.36 63.09 L382.72 67.78 L383.07 72.94 L383.43 78.26 L383.78 83.42 L384.14 88.11 L384.49 92.07 L384.85 95.07 L385.2 97 L385.57 95.25 L385.95 92.57 L386.32 89.05 L386.7 84.86 L387.07 80.18 L387.45 75.25 L387.82 70.32 L388.2 65.64 L388.57 61.45 L388.95 57.93 L389.32 55.25 L389.7 53.5 L390.08 56.67 L390.46 61.62 L390.85 68.14 L391.23 75.87 L391.61 84.37 L391.99 93.13 L392.37 101.63 L392.75 109.36 L393.14 115.88 L393.52 120.83 L393.9 124 L394.27 121.53 L394.64 117.88 L395.01 113.13 L395.39 107.43 L395.76 100.98 L396.13 94 L396.5 86.75 L396.87 79.5 L397.24 72.52 L397.61 66.07 L397.99 60.37 L398.36 55.62 L398.73 51.97 L399.1 49.5 L399.47 51.53 L399.83 54.64 L400.2 58.73 L400.57 63.6 L400.93 69.03 L401.3 74.75 L401.67 80.47 L402.03 85.9 L402.4 90.77 L402.77 94.86 L403.13 97.97 L403.5 100 L403.86 98.52 L404.22 96.16 L404.58 93.05 L404.94 89.39 L405.3 85.45 L405.66 81.51 L406.02 77.85 L406.38 74.74 L406.74 72.38 L407.1 70.9 L407.47 72.83 L407.85 75.84 L408.22 79.81 L408.59 84.51 L408.96 89.68 L409.34 95.02 L409.71 100.19 L410.08 104.89 L410.45 108.86 L410.83 111.87 L411.2 113.8 L411.56 111.28 L411.92 107.43 L412.27 102.38 L412.63 96.35 L412.99 89.63 L413.35 82.55 L413.71 75.47 L414.07 68.75 L414.43 62.72 L414.78 57.67 L415.14 53.82 L415.5 51.3 L415.87 54.17 L416.23 58.55 L416.6 64.31 L416.97 71.18 L417.33 78.83 L417.7 86.9 L418.07 94.97 L418.43 102.62 L418.8 109.49 L419.17 115.25 L419.53 119.63 L419.9 122.5 L420.27 119.34 L420.63 114.5 L421 108.16 L421.37 100.59 L421.73 92.14 L422.1 83.25 L422.47 74.36 L422.83 65.91 L423.2 58.34 L423.57 52 L423.93 47.16 L424.3 44 L424.65 47.14 L425.01 52.04 L425.36 58.49 L425.72 66.14 L426.07 74.56 L426.43 83.24 L426.78 91.66 L427.14 99.31 L427.49 105.76 L427.85 110.66 L428.2 113.8 L428.56 112.28 L428.92 109.95 L429.27 106.89 L429.63 103.25 L429.99 99.18 L430.35 94.9 L430.71 90.62 L431.07 86.55 L431.43 82.91 L431.78 79.85 L432.14 77.52 L432.5 76 L432.86 76.85 L433.23 78.19 L433.59 79.94 L433.95 82.03 L434.32 84.32 L434.68 86.68 L435.05 88.97 L435.41 91.06 L435.77 92.81 L436.14 94.15 L436.5 95 L436.86 93.59 L437.22 91.43 L437.57 88.61 L437.93 85.23 L438.29 81.46 L438.65 77.5 L439.01 73.54 L439.37 69.77 L439.73 66.39 L440.08 63.57 L440.44 61.41 L440.8 60 L441.17 62.23 L441.55 65.7 L441.92 70.28 L442.29 75.7 L442.66 81.67 L443.04 87.83 L443.41 93.8 L443.78 99.22 L444.15 103.8 L444.53 107.27 L444.9 109.5 L445.27 107.33 L445.63 104.01 L446 99.65 L446.37 94.45 L446.73 88.66 L447.1 82.55 L447.47 76.44 L447.83 70.65 L448.2 65.45 L448.57 61.09 L448.93 57.77 L449.3 55.6 L449.66 57.94 L450.02 61.53 L450.38 66.23 L450.73 71.85 L451.09 78.11 L451.45 84.7 L451.81 91.29 L452.17 97.55 L452.53 103.17 L452.88 107.87 L453.24 111.46 L453.6 113.8 L453.97 111.61 L454.33 108.25 L454.7 103.84 L455.07 98.59 L455.43 92.72 L455.8 86.55 L456.17 80.38 L456.53 74.51 L456.9 69.26 L457.27 64.85 L457.63 61.49 L458 59.3 L458.36 60.92 L458.72 63.4 L459.07 66.64 L459.43 70.52 L459.79 74.85 L460.15 79.4 L460.51 83.95 L460.87 88.28 L461.23 92.16 L461.58 95.4 L461.94 97.88 L462.3 99.5 L462.66 98.89 L463.02 98.03 L463.38 96.93 L463.74 95.6 L464.09 94.09 L464.45 92.42 L464.81 90.64 L465.17 88.79 L465.53 86.91 L465.89 85.06 L466.25 83.28 L466.61 81.61 L466.96 80.1 L467.32 78.77 L467.68 77.67 L468.04 76.81 L468.4 76.2 L468.77 76.88 L469.14 77.91 L469.51 79.26 L469.88 80.86 L470.25 82.67 L470.62 84.61 L470.98 86.59 L471.35 88.53 L471.72 90.34 L472.09 91.94 L472.46 93.29 L472.83 94.32 L473.2 95 L473.55 94.19 L473.91 92.91 L474.26 91.24 L474.62 89.26 L474.97 87.08 L475.33 84.82 L475.68 82.64 L476.04 80.66 L476.39 78.99 L476.75 77.71 L477.1 76.9 L477.48 77.6 L477.86 78.73 L478.23 80.22 L478.61 81.95 L478.99 83.75 L479.37 85.48 L479.74 86.97 L480.12 88.1 L480.5 88.8 L480.86 88.34 L481.22 87.61 L481.58 86.65 L481.94 85.52 L482.3 84.3 L482.66 83.08 L483.02 81.95 L483.38 80.99 L483.74 80.26 L484.1 79.8 L484.46 80.16 L484.81 80.72 L485.17 81.44 L485.53 82.31 L485.88 83.28 L486.24 84.3 L486.59 85.32 L486.95 86.29 L487.31 87.16 L487.66 87.88 L488.02 88.44 L488.38 88.8 L488.73 88.44 L489.09 87.88 L489.44 87.16 L489.8 86.29 L490.16 85.32 L490.51 84.3 L490.87 83.28 L491.23 82.31 L491.58 81.44 L491.94 80.72 L492.29 80.16 L492.65 79.8 L493.01 80.16 L493.36 80.72 L493.72 81.44 L494.08 82.31 L494.43 83.28 L494.79 84.3 L495.14 85.32 L495.5 86.29 L495.86 87.16 L496.21 87.88 L496.57 88.44 L496.93 88.8 L497.28 88.44 L497.64 87.88 L497.99 87.16 L498.35 86.29 L498.71 85.32 L499.06 84.3 L499.42 83.28 L499.78 82.31 L500.13 81.44 L500.49 80.72 L500.84 80.16 L501.2 79.8 L501.56 80.16 L501.91 80.72 L502.27 81.44 L502.63 82.31 L502.98 83.28 L503.34 84.3 L503.69 85.32 L504.05 86.29 L504.41 87.16 L504.76 87.88 L505.12 88.44 L505.48 88.8 L505.83 88.44 L506.19 87.88 L506.54 87.16 L506.9 86.29 L507.26 85.32 L507.61 84.3 L507.97 83.28 L508.32 82.31 L508.68 81.44 L509.04 80.72 L509.39 80.16 L509.75 79.8 L510.11 80.16 L510.46 80.72 L510.82 81.44 L511.18 82.31 L511.53 83.28 L511.89 84.3 L512.24 85.32 L512.6 86.29 L512.96 87.16 L513.31 87.88 L513.67 88.44 L514.02 88.8 L514.38 88.44 L514.74 87.88 L515.09 87.16 L515.45 86.29 L515.81 85.32 L516.16 84.3 L516.52 83.28 L516.88 82.31 L517.23 81.44 L517.59 80.72 L517.94 80.16 L518.3 79.8 L518.66 80.16 L519.01 80.72 L519.37 81.44 L519.73 82.31 L520.08 83.28 L520.44 84.3 L520.79 85.32 L521.15 86.29 L521.51 87.16 L521.86 87.88 L522.22 88.44 L522.58 88.8 L522.93 88.44 L523.29 87.88 L523.64 87.16 L524 86.29 L524.36 85.32 L524.71 84.3 L525.07 83.28 L525.43 82.31 L525.78 81.44 L526.14 80.72 L526.49 80.16 L526.85 79.8 L527.21 80.16 L527.56 80.72 L527.92 81.44 L528.27 82.31 L528.63 83.28 L528.99 84.3 L529.34 85.32 L529.7 86.29 L530.06 87.16 L530.41 87.88 L530.77 88.44 L531.12 88.8 L531.48 88.44 L531.84 87.88 L532.19 87.16 L532.55 86.29 L532.91 85.32 L533.26 84.3 L533.62 83.28 L533.98 82.31 L534.33 81.44 L534.69 80.72 L535.04 80.16 L535.4 79.8 L535.76 80.16 L536.11 80.72 L536.47 81.44 L536.83 82.31 L537.18 83.28 L537.54 84.3 L537.89 85.32 L538.25 86.29 L538.61 87.16 L538.96 87.88 L539.32 88.44 L539.68 88.8" stroke="#d36f95" stroke-width="1.3" stroke-dasharray="3.4 1.9"/>
</g>
<path d="M319.5 148.3v-2.4 M319.5 20.8v2.4 M362.08 148.3v-2.4 M362.08 20.8v2.4 M404.66 148.3v-2.4 M404.66 20.8v2.4 M447.24 148.3v-2.4 M447.24 20.8v2.4 M489.82 148.3v-2.4 M489.82 20.8v2.4 M532.4 148.3v-2.4 M532.4 20.8v2.4 M319.5 127.05h2.4 M532.4 127.05h-2.4 M319.5 84.55h2.4 M532.4 84.55h-2.4 M319.5 42.05h2.4 M532.4 42.05h-2.4" stroke="#9a9a9a" stroke-width="1" fill="none"/>
<rect x="319.5" y="20.8" width="212.9" height="127.5" fill="none" stroke="#c2c2c2" stroke-width="1.9"/>
<g font-family='"Liberation Serif", "Times New Roman", serif' font-size="13" fill="#000" stroke="#000" stroke-width="0.18">
<text x="319.5" y="164.3" text-anchor="middle">0</text>
<text x="362.08" y="164.3" text-anchor="middle">0.1</text>
<text x="404.66" y="164.3" text-anchor="middle">0.2</text>
<text x="447.24" y="164.3" text-anchor="middle">0.3</text>
<text x="489.82" y="164.3" text-anchor="middle">0.4</text>
<text x="532.4" y="164.3" text-anchor="middle">0.5</text>
<text x="315.6" y="46.45" text-anchor="end">10</text>
<text x="315.6" y="88.95" text-anchor="end">0</text>
<text x="315.6" y="131.45" text-anchor="end">-10</text>
</g>
<g font-family='"Liberation Serif", "Times New Roman", serif' font-size="14.5" fill="#000" stroke="#000" stroke-width="0.18">
<text x="360.9" y="16.2">Starting Load (0.5Nm)</text>
<text x="530.6" y="16.2" text-anchor="end">(b)</text>
<text x="425.95" y="180.8" text-anchor="middle">Time [s]</text>
<text transform="translate(293.6 83.7) rotate(-90)" text-anchor="middle" font-size="14.8">Current [A]</text>
</g>
<rect x="467.4" y="25.4" width="61.2" height="31.6" fill="#fff" stroke="#c2c2c2" stroke-width="1.2"/>
<path d="M470.1 33.8h14" stroke="#4fb97c" stroke-width="1.1"/>
<path d="M470.1 48.9h14" stroke="#d36f95" stroke-width="1.1" stroke-dasharray="3.4 2"/>
<g font-family='"Liberation Serif", "Times New Roman", serif' font-size="13" fill="#000" stroke="#000" stroke-width="0.18">
<text x="485.4" y="38.7">Healthy</text>
<text x="485.4" y="53.1">Faulty</text>
</g>
<defs><clipPath id="c2"><rect x="41.5" y="212.5" width="214.5" height="127.8"/></clipPath></defs>
<g clip-path="url(#c2)" fill="none" stroke-linejoin="round">
<path d="M41.7 276.4 L42.08 283.29 L42.45 295.25 L42.83 307.21 L43.2 314.1 L43.57 310.73 L43.95 305.46 L44.32 298.53 L44.69 290.31 L45.06 281.26 L45.44 271.94 L45.81 262.89 L46.18 254.67 L46.55 247.74 L46.93 242.47 L47.3 239.1 L47.65 241.74 L48.01 245.7 L48.36 250.88 L48.72 257.09 L49.07 264.07 L49.42 271.53 L49.78 279.17 L50.13 286.63 L50.48 293.61 L50.84 299.82 L51.19 305 L51.55 308.96 L51.9 311.6 L52.27 308.77 L52.63 304.44 L53 298.76 L53.37 291.97 L53.73 284.41 L54.1 276.45 L54.47 268.49 L54.83 260.93 L55.2 254.14 L55.57 248.46 L55.93 244.13 L56.3 241.3 L56.67 244.23 L57.05 248.81 L57.42 254.84 L57.79 261.99 L58.16 269.85 L58.54 277.95 L58.91 285.81 L59.28 292.96 L59.65 298.99 L60.03 303.57 L60.4 306.5 L60.75 304.12 L61.11 300.53 L61.46 295.86 L61.82 290.25 L62.17 283.94 L62.52 277.2 L62.88 270.3 L63.23 263.56 L63.58 257.25 L63.94 251.64 L64.29 246.97 L64.65 243.38 L65 241 L65.37 243.65 L65.75 247.8 L66.12 253.25 L66.49 259.72 L66.86 266.83 L67.24 274.17 L67.61 281.28 L67.98 287.75 L68.35 293.2 L68.73 297.35 L69.1 300 L69.47 297.4 L69.83 293.43 L70.2 288.22 L70.57 281.99 L70.93 275.06 L71.3 267.75 L71.67 260.44 L72.03 253.51 L72.4 247.28 L72.77 242.07 L73.13 238.1 L73.5 235.5 L73.86 238.17 L74.23 242.34 L74.59 247.83 L74.95 254.35 L75.32 261.51 L75.68 268.89 L76.05 276.05 L76.41 282.57 L76.77 288.06 L77.14 292.23 L77.5 294.9 L77.86 293.19 L78.22 290.61 L78.58 287.25 L78.95 283.22 L79.31 278.68 L79.67 273.83 L80.03 268.87 L80.39 264.02 L80.75 259.48 L81.12 255.45 L81.48 252.09 L81.84 249.51 L82.2 247.8 L82.56 250.52 L82.92 254.68 L83.28 260.13 L83.63 266.64 L83.99 273.9 L84.35 281.55 L84.71 289.2 L85.07 296.46 L85.42 302.97 L85.78 308.42 L86.14 312.58 L86.5 315.3 L86.87 312.75 L87.25 308.78 L87.62 303.55 L87.99 297.34 L88.36 290.52 L88.74 283.48 L89.11 276.66 L89.48 270.45 L89.85 265.22 L90.23 261.25 L90.6 258.7 L90.97 260.33 L91.33 262.84 L91.7 266.12 L92.07 270.03 L92.43 274.4 L92.8 279 L93.17 283.6 L93.53 287.97 L93.9 291.88 L94.27 295.16 L94.63 297.67 L95 299.3 L95.35 296.36 L95.71 291.78 L96.06 285.74 L96.42 278.58 L96.77 270.71 L97.13 262.59 L97.48 254.72 L97.84 247.56 L98.19 241.52 L98.55 236.94 L98.9 234 L99.27 236.59 L99.64 240.48 L100.01 245.55 L100.38 251.64 L100.75 258.48 L101.12 265.81 L101.48 273.29 L101.85 280.62 L102.22 287.46 L102.59 293.55 L102.96 298.62 L103.33 302.51 L103.7 305.1 L104.05 302.89 L104.4 299.35 L104.75 294.7 L105.1 289.24 L105.45 283.35 L105.8 277.46 L106.15 272 L106.5 267.35 L106.85 263.81 L107.2 261.6 L107.57 263.13 L107.94 265.43 L108.31 268.43 L108.68 272.02 L109.05 276.06 L109.42 280.39 L109.78 284.81 L110.15 289.14 L110.52 293.18 L110.89 296.77 L111.26 299.77 L111.63 302.07 L112 303.6 L112.38 300.9 L112.75 296.76 L113.12 291.34 L113.5 284.87 L113.88 277.65 L114.25 270.05 L114.62 262.45 L115 255.23 L115.38 248.76 L115.75 243.34 L116.12 239.2 L116.5 236.5 L116.85 239.21 L117.21 243.28 L117.56 248.59 L117.92 254.96 L118.27 262.12 L118.62 269.78 L118.98 277.62 L119.33 285.28 L119.68 292.44 L120.04 298.81 L120.39 304.12 L120.75 308.19 L121.1 310.9 L121.47 308.95 L121.83 305.96 L122.2 302.04 L122.57 297.36 L122.93 292.14 L123.3 286.65 L123.67 281.16 L124.03 275.94 L124.4 271.26 L124.77 267.34 L125.13 264.35 L125.5 262.4 L125.86 263.79 L126.22 266.02 L126.58 268.95 L126.94 272.39 L127.3 276.1 L127.66 279.81 L128.02 283.25 L128.38 286.18 L128.74 288.41 L129.1 289.8 L129.47 288.11 L129.83 285.52 L130.2 282.13 L130.57 278.07 L130.93 273.56 L131.3 268.8 L131.67 264.04 L132.03 259.53 L132.4 255.47 L132.77 252.08 L133.13 249.49 L133.5 247.8 L133.86 250.28 L134.22 254.09 L134.57 259.07 L134.93 265.02 L135.29 271.66 L135.65 278.65 L136.01 285.64 L136.37 292.28 L136.73 298.23 L137.08 303.21 L137.44 307.02 L137.8 309.5 L138.17 306.61 L138.53 302.18 L138.9 296.36 L139.27 289.43 L139.63 281.7 L140 273.55 L140.37 265.4 L140.73 257.67 L141.1 250.74 L141.47 244.92 L141.83 240.49 L142.2 237.6 L142.55 240.43 L142.91 244.68 L143.26 250.23 L143.62 256.88 L143.97 264.36 L144.32 272.36 L144.68 280.54 L145.03 288.54 L145.38 296.02 L145.74 302.67 L146.09 308.22 L146.45 312.47 L146.8 315.3 L147.17 312.95 L147.54 309.42 L147.91 304.8 L148.28 299.27 L148.65 293.05 L149.02 286.4 L149.38 279.6 L149.75 272.95 L150.12 266.73 L150.49 261.2 L150.86 256.58 L151.23 253.05 L151.6 250.7 L151.97 252.36 L152.34 255.01 L152.71 258.49 L153.08 262.58 L153.45 267 L153.82 271.42 L154.19 275.51 L154.56 278.99 L154.93 281.64 L155.3 283.3 L155.66 282.2 L156.02 280.43 L156.38 278.11 L156.74 275.39 L157.1 272.45 L157.46 269.51 L157.82 266.79 L158.18 264.47 L158.54 262.7 L158.9 261.6 L159.27 263.23 L159.63 265.74 L160 269.02 L160.37 272.93 L160.73 277.3 L161.1 281.9 L161.47 286.5 L161.83 290.87 L162.2 294.78 L162.57 298.06 L162.93 300.57 L163.3 302.2 L163.65 299.85 L164.01 296.19 L164.36 291.36 L164.72 285.64 L165.07 279.34 L165.43 272.86 L165.78 266.56 L166.14 260.84 L166.49 256.01 L166.85 252.35 L167.2 250 L167.57 252.05 L167.94 255.15 L168.31 259.18 L168.68 264.02 L169.05 269.46 L169.42 275.28 L169.78 281.22 L170.15 287.04 L170.52 292.48 L170.89 297.32 L171.26 301.35 L171.63 304.45 L172 306.5 L172.37 304.02 L172.73 300.22 L173.1 295.25 L173.47 289.3 L173.83 282.68 L174.2 275.7 L174.57 268.72 L174.93 262.1 L175.3 256.15 L175.67 251.18 L176.03 247.38 L176.4 244.9 L176.76 247.21 L177.12 250.74 L177.47 255.37 L177.83 260.9 L178.19 267.06 L178.55 273.55 L178.91 280.04 L179.27 286.2 L179.62 291.73 L179.98 296.36 L180.34 299.89 L180.7 302.2 L181.07 300.4 L181.43 297.65 L181.8 294.03 L182.17 289.72 L182.53 284.91 L182.9 279.85 L183.27 274.79 L183.63 269.98 L184 265.67 L184.37 262.05 L184.73 259.3 L185.1 257.5 L185.46 259.22 L185.82 262.09 L186.19 265.83 L186.55 270.05 L186.91 274.27 L187.28 278.01 L187.64 280.88 L188 282.6 L188.38 282.56 L188.75 282.49 L189.12 282.4 L189.5 282.3 L189.88 282.2 L190.25 282.11 L190.62 282.04 L191 282 L191.36 281.35 L191.72 280.36 L192.07 279.06 L192.43 277.51 L192.79 275.77 L193.15 273.95 L193.51 272.13 L193.87 270.39 L194.23 268.84 L194.58 267.54 L194.94 266.55 L195.3 265.9 L195.66 266.63 L196.02 267.75 L196.38 269.22 L196.73 270.98 L197.09 272.94 L197.45 275 L197.81 277.06 L198.17 279.02 L198.53 280.78 L198.88 282.25 L199.24 283.37 L199.6 284.1 L199.97 283.55 L200.34 282.66 L200.71 281.5 L201.08 280.13 L201.45 278.65 L201.82 277.17 L202.19 275.8 L202.56 274.64 L202.93 273.75 L203.3 273.2 L203.66 273.52 L204.02 274.02 L204.38 274.66 L204.73 275.43 L205.09 276.29 L205.45 277.2 L205.81 278.11 L206.17 278.97 L206.53 279.74 L206.88 280.38 L207.24 280.88 L207.6 281.2 L207.97 280.72 L208.34 279.95 L208.71 278.93 L209.08 277.74 L209.45 276.45 L209.82 275.16 L210.19 273.97 L210.56 272.95 L210.93 272.18 L211.3 271.7 L211.66 272.11 L212.02 272.74 L212.38 273.56 L212.73 274.55 L213.09 275.64 L213.45 276.8 L213.81 277.96 L214.17 279.05 L214.53 280.04 L214.88 280.86 L215.24 281.49 L215.6 281.9 L215.97 281.38 L216.34 280.55 L216.71 279.46 L217.08 278.18 L217.45 276.8 L217.82 275.42 L218.19 274.14 L218.56 273.05 L218.93 272.22 L219.3 271.7 L219.66 272.05 L220.02 272.6 L220.38 273.31 L220.73 274.16 L221.09 275.1 L221.45 276.1 L221.81 277.1 L222.17 278.04 L222.53 278.89 L222.88 279.6 L223.24 280.15 L223.6 280.5 L223.97 280.14 L224.33 279.58 L224.7 278.86 L225.07 277.99 L225.43 277.02 L225.8 276 L226.17 274.98 L226.53 274.01 L226.9 273.14 L227.27 272.42 L227.63 271.86 L228 271.5 L228.36 271.89 L228.71 272.49 L229.07 273.27 L229.43 274.21 L229.78 275.25 L230.14 276.35 L230.5 277.45 L230.85 278.49 L231.21 279.43 L231.57 280.21 L231.92 280.81 L232.28 281.2 L232.64 280.81 L232.99 280.21 L233.35 279.43 L233.71 278.49 L234.06 277.45 L234.42 276.35 L234.78 275.25 L235.13 274.21 L235.49 273.27 L235.85 272.49 L236.2 271.89 L236.56 271.5 L236.92 271.89 L237.27 272.49 L237.63 273.27 L237.99 274.21 L238.34 275.25 L238.7 276.35 L239.06 277.45 L239.41 278.49 L239.77 279.43 L240.13 280.21 L240.48 280.81 L240.84 281.2 L241.2 280.81 L241.55 280.21 L241.91 279.43 L242.27 278.49 L242.62 277.45 L242.98 276.35 L243.34 275.25 L243.69 274.21 L244.05 273.27 L244.41 272.49 L244.76 271.89 L245.12 271.5 L245.48 271.89 L245.83 272.49 L246.19 273.27 L246.55 274.21 L246.9 275.25 L247.26 276.35 L247.62 277.45 L247.97 278.49 L248.33 279.43 L248.69 280.21 L249.04 280.81 L249.4 281.2 L249.76 280.81 L250.11 280.21 L250.47 279.43 L250.83 278.49 L251.18 277.45 L251.54 276.35 L251.9 275.25 L252.25 274.21 L252.61 273.27 L252.97 272.49 L253.32 271.89 L253.68 271.5 L254.04 271.89 L254.39 272.49 L254.75 273.27 L255.11 274.21 L255.46 275.25 L255.82 276.35 L256.18 277.45 L256.53 278.49 L256.89 279.43 L257.25 280.21 L257.6 280.81 L257.96 281.2 L258.32 280.81 L258.67 280.21 L259.03 279.43 L259.39 278.49 L259.74 277.45 L260.1 276.35 L260.46 275.25 L260.81 274.21 L261.17 273.27 L261.53 272.49 L261.88 271.89 L262.24 271.5" stroke="#4fb97c" stroke-width="1.3"/>
<path d="M41.7 276.4 L42.07 284.38 L42.43 297.02 L42.8 305 L43.17 301.79 L43.54 296.68 L43.91 289.94 L44.28 282.03 L44.65 273.5 L45.02 264.97 L45.39 257.06 L45.76 250.32 L46.13 245.21 L46.5 242 L46.86 244.07 L47.21 247.13 L47.57 251.1 L47.93 255.88 L48.29 261.28 L48.64 267.13 L49 273.2 L49.36 279.27 L49.71 285.12 L50.07 290.52 L50.43 295.3 L50.79 299.27 L51.14 302.33 L51.5 304.4 L51.86 302.01 L52.22 298.34 L52.58 293.53 L52.93 287.79 L53.29 281.39 L53.65 274.65 L54.01 267.91 L54.37 261.51 L54.72 255.77 L55.08 250.96 L55.44 247.29 L55.8 244.9 L56.15 247.56 L56.5 251.62 L56.85 256.96 L57.2 263.32 L57.55 270.42 L57.9 277.9 L58.25 285.38 L58.6 292.47 L58.95 298.84 L59.3 304.18 L59.65 308.24 L60 310.9 L60.38 308.63 L60.75 305.14 L61.12 300.58 L61.5 295.13 L61.88 289.05 L62.25 282.65 L62.62 276.25 L63 270.17 L63.38 264.72 L63.75 260.16 L64.12 256.67 L64.5 254.4 L64.88 258.04 L65.26 263.98 L65.63 271.79 L66.01 280.82 L66.39 290.28 L66.77 299.31 L67.14 307.12 L67.52 313.06 L67.9 316.7 L68.26 314.54 L68.63 311.34 L68.99 307.19 L69.36 302.2 L69.72 296.55 L70.09 290.45 L70.45 284.1 L70.81 277.75 L71.18 271.65 L71.54 266 L71.91 261.01 L72.27 256.86 L72.64 253.66 L73 251.5 L73.38 253.16 L73.75 255.7 L74.12 259.03 L74.5 263 L74.88 267.43 L75.25 272.1 L75.62 276.77 L76 281.2 L76.38 285.17 L76.75 288.5 L77.12 291.04 L77.5 292.7 L77.85 289.64 L78.2 284.75 L78.55 278.31 L78.9 270.75 L79.25 262.6 L79.6 254.45 L79.95 246.89 L80.3 240.45 L80.65 235.56 L81 232.5 L81.36 235.17 L81.71 239.12 L82.07 244.25 L82.43 250.4 L82.79 257.37 L83.14 264.92 L83.5 272.75 L83.86 280.58 L84.21 288.13 L84.57 295.1 L84.93 301.25 L85.29 306.38 L85.64 310.33 L86 313 L86.37 310.88 L86.73 307.62 L87.1 303.35 L87.47 298.26 L87.83 292.58 L88.2 286.6 L88.57 280.62 L88.93 274.94 L89.3 269.85 L89.67 265.58 L90.03 262.32 L90.4 260.2 L90.77 262.99 L91.14 267.44 L91.51 273.3 L91.88 280.18 L92.25 287.6 L92.62 295.02 L92.99 301.9 L93.36 307.76 L93.73 312.21 L94.1 315 L94.47 311.86 L94.83 307.04 L95.2 300.73 L95.57 293.2 L95.93 284.8 L96.3 275.95 L96.67 267.1 L97.03 258.7 L97.4 251.17 L97.77 244.86 L98.13 240.04 L98.5 236.9 L98.86 238.85 L99.22 241.78 L99.58 245.61 L99.95 250.2 L100.31 255.36 L100.67 260.88 L101.03 266.52 L101.39 272.04 L101.75 277.2 L102.12 281.79 L102.48 285.62 L102.84 288.55 L103.2 290.5 L103.58 288.23 L103.95 284.43 L104.33 279.48 L104.7 273.9 L105.08 268.32 L105.45 263.37 L105.83 259.57 L106.2 257.3 L106.56 259.04 L106.92 261.58 L107.28 264.85 L107.64 268.79 L108 273.27 L108.36 278.15 L108.72 283.29 L109.08 288.51 L109.44 293.65 L109.8 298.53 L110.16 303.01 L110.52 306.95 L110.88 310.22 L111.24 312.76 L111.6 314.5 L111.97 311.49 L112.33 306.89 L112.7 300.85 L113.07 293.65 L113.43 285.61 L113.8 277.15 L114.17 268.69 L114.53 260.65 L114.9 253.45 L115.27 247.41 L115.63 242.81 L116 239.8 L116.38 242.13 L116.75 245.71 L117.12 250.4 L117.5 255.99 L117.88 262.23 L118.25 268.8 L118.62 275.37 L119 281.61 L119.38 287.2 L119.75 291.89 L120.12 295.47 L120.5 297.8 L120.87 296.52 L121.23 294.56 L121.6 291.99 L121.97 288.92 L122.33 285.5 L122.7 281.9 L123.07 278.3 L123.43 274.88 L123.8 271.81 L124.17 269.24 L124.53 267.28 L124.9 266 L125.25 267.69 L125.61 270.33 L125.96 273.81 L126.32 277.93 L126.67 282.46 L127.03 287.14 L127.38 291.67 L127.74 295.79 L128.09 299.27 L128.45 301.91 L128.8 303.6 L129.15 300.8 L129.51 296.42 L129.86 290.66 L130.22 283.83 L130.57 276.32 L130.93 268.58 L131.28 261.07 L131.64 254.24 L131.99 248.48 L132.35 244.1 L132.7 241.3 L133.07 243.99 L133.44 248.04 L133.81 253.33 L134.18 259.66 L134.55 266.78 L134.92 274.4 L135.28 282.2 L135.65 289.82 L136.02 296.94 L136.39 303.27 L136.76 308.56 L137.13 312.61 L137.5 315.3 L137.87 312.38 L138.23 307.9 L138.6 302.04 L138.97 295.03 L139.33 287.22 L139.7 279 L140.07 270.78 L140.43 262.97 L140.8 255.96 L141.17 250.1 L141.53 245.62 L141.9 242.7 L142.25 244.31 L142.61 246.73 L142.96 249.9 L143.32 253.69 L143.67 257.96 L144.02 262.52 L144.38 267.18 L144.73 271.74 L145.08 276.01 L145.44 279.8 L145.79 282.97 L146.15 285.39 L146.5 287 L146.87 285.85 L147.24 284.03 L147.61 281.62 L147.98 278.8 L148.35 275.75 L148.72 272.7 L149.09 269.88 L149.46 267.47 L149.83 265.65 L150.2 264.5 L150.56 266.02 L150.92 268.34 L151.27 271.39 L151.63 275.02 L151.99 279.08 L152.35 283.35 L152.71 287.62 L153.07 291.68 L153.43 295.31 L153.78 298.36 L154.14 300.68 L154.5 302.2 L154.86 299.69 L155.23 295.77 L155.59 290.61 L155.95 284.5 L156.32 277.77 L156.68 270.83 L157.05 264.1 L157.41 257.99 L157.77 252.83 L158.14 248.91 L158.5 246.4 L158.86 248.91 L159.22 252.75 L159.57 257.78 L159.93 263.79 L160.29 270.49 L160.65 277.55 L161.01 284.61 L161.37 291.31 L161.73 297.32 L162.08 302.35 L162.44 306.19 L162.8 308.7 L163.17 305.9 L163.53 301.61 L163.9 295.98 L164.27 289.27 L164.63 281.78 L165 273.9 L165.37 266.02 L165.73 258.53 L166.1 251.82 L166.47 246.19 L166.83 241.9 L167.2 239.1 L167.57 241.79 L167.94 245.84 L168.31 251.13 L168.68 257.46 L169.05 264.58 L169.42 272.2 L169.78 280 L170.15 287.62 L170.52 294.74 L170.89 301.07 L171.26 306.36 L171.63 310.41 L172 313.1 L172.37 309.7 L172.75 304.4 L173.12 297.42 L173.49 289.15 L173.86 280.04 L174.24 270.66 L174.61 261.55 L174.98 253.28 L175.35 246.3 L175.73 241 L176.1 237.6 L176.45 240.37 L176.81 244.54 L177.16 249.98 L177.52 256.5 L177.87 263.84 L178.22 271.69 L178.58 279.71 L178.93 287.56 L179.28 294.9 L179.64 301.42 L179.99 306.86 L180.35 311.03 L180.7 313.8 L181.07 310.65 L181.43 305.82 L181.8 299.5 L182.17 291.94 L182.53 283.52 L182.9 274.65 L183.27 265.78 L183.63 257.36 L184 249.8 L184.37 243.48 L184.73 238.65 L185.1 235.5 L185.47 238.32 L185.84 242.57 L186.21 248.11 L186.58 254.75 L186.95 262.22 L187.32 270.22 L187.68 278.38 L188.05 286.38 L188.42 293.85 L188.79 300.49 L189.16 306.03 L189.53 310.28 L189.9 313.1 L190.25 310.46 L190.61 306.34 L190.96 300.91 L191.32 294.48 L191.67 287.4 L192.03 280.1 L192.38 273.02 L192.74 266.59 L193.09 261.16 L193.45 257.04 L193.8 254.4 L194.17 255.96 L194.54 258.44 L194.91 261.71 L195.28 265.56 L195.65 269.7 L196.02 273.84 L196.39 277.69 L196.76 280.96 L197.13 283.44 L197.5 285 L197.86 284.01 L198.22 282.5 L198.57 280.52 L198.93 278.16 L199.29 275.53 L199.65 272.75 L200.01 269.97 L200.37 267.34 L200.73 264.98 L201.08 263 L201.44 261.49 L201.8 260.5 L202.17 262.15 L202.53 264.68 L202.9 267.99 L203.27 271.95 L203.63 276.36 L204 281 L204.37 285.64 L204.73 290.05 L205.1 294.01 L205.47 297.32 L205.83 299.85 L206.2 301.5 L206.56 299.43 L206.92 296.25 L207.27 292.09 L207.63 287.12 L207.99 281.58 L208.35 275.75 L208.71 269.92 L209.07 264.38 L209.43 259.41 L209.78 255.25 L210.14 252.07 L210.5 250 L210.87 252.22 L211.23 255.62 L211.6 260.08 L211.97 265.41 L212.33 271.35 L212.7 277.6 L213.07 283.85 L213.43 289.79 L213.8 295.12 L214.17 299.58 L214.53 302.98 L214.9 305.2 L215.26 302.35 L215.62 297.82 L215.98 291.84 L216.34 284.82 L216.7 277.25 L217.06 269.68 L217.42 262.66 L217.78 256.68 L218.14 252.15 L218.5 249.3 L218.86 250.93 L219.23 253.35 L219.59 256.49 L219.96 260.26 L220.32 264.53 L220.69 269.15 L221.05 273.95 L221.41 278.75 L221.78 283.37 L222.14 287.64 L222.51 291.41 L222.87 294.55 L223.24 296.97 L223.6 298.6 L223.97 296.79 L224.34 293.9 L224.71 290.09 L225.08 285.62 L225.45 280.8 L225.82 275.98 L226.19 271.51 L226.56 267.7 L226.93 264.81 L227.3 263 L227.66 263.55 L228.02 264.32 L228.38 265.29 L228.74 266.46 L229.11 267.8 L229.47 269.28 L229.83 270.87 L230.19 272.54 L230.55 274.25 L230.91 275.96 L231.27 277.63 L231.63 279.22 L231.99 280.7 L232.36 282.04 L232.72 283.21 L233.08 284.18 L233.44 284.95 L233.8 285.5 L234.17 284.7 L234.53 283.47 L234.9 281.86 L235.27 279.94 L235.63 277.8 L236 275.55 L236.37 273.3 L236.73 271.16 L237.1 269.24 L237.47 267.63 L237.83 266.4 L238.2 265.6 L238.56 266.26 L238.92 267.26 L239.27 268.58 L239.63 270.15 L239.99 271.9 L240.35 273.75 L240.71 275.6 L241.07 277.35 L241.43 278.92 L241.78 280.24 L242.14 281.24 L242.5 281.9 L242.87 281.05 L243.24 279.59 L243.61 277.71 L243.99 275.69 L244.36 273.81 L244.73 272.35 L245.1 271.5 L245.46 271.89 L245.81 272.49 L246.17 273.27 L246.53 274.21 L246.88 275.25 L247.24 276.35 L247.6 277.45 L247.95 278.49 L248.31 279.43 L248.67 280.21 L249.02 280.81 L249.38 281.2 L249.74 280.81 L250.09 280.21 L250.45 279.43 L250.81 278.49 L251.16 277.45 L251.52 276.35 L251.88 275.25 L252.23 274.21 L252.59 273.27 L252.95 272.49 L253.3 271.89 L253.66 271.5 L254.02 271.89 L254.37 272.49 L254.73 273.27 L255.09 274.21 L255.44 275.25 L255.8 276.35 L256.16 277.45 L256.51 278.49 L256.87 279.43 L257.23 280.21 L257.58 280.81 L257.94 281.2 L258.3 280.81 L258.65 280.21 L259.01 279.43 L259.37 278.49 L259.72 277.45 L260.08 276.35 L260.44 275.25 L260.79 274.21 L261.15 273.27 L261.51 272.49 L261.86 271.89 L262.22 271.5" stroke="#d36f95" stroke-width="1.3" stroke-dasharray="3.4 1.9"/>
</g>
<path d="M41.5 340.3v-2.4 M41.5 212.5v2.4 M84.4 340.3v-2.4 M84.4 212.5v2.4 M127.3 340.3v-2.4 M127.3 212.5v2.4 M170.2 340.3v-2.4 M170.2 212.5v2.4 M213.1 340.3v-2.4 M213.1 212.5v2.4 M256 340.3v-2.4 M256 212.5v2.4 M41.5 319h2.4 M256 319h-2.4 M41.5 276.4h2.4 M256 276.4h-2.4 M41.5 233.8h2.4 M256 233.8h-2.4" stroke="#9a9a9a" stroke-width="1" fill="none"/>
<rect x="41.5" y="212.5" width="214.5" height="127.8" fill="none" stroke="#c2c2c2" stroke-width="1.9"/>
<g font-family='"Liberation Serif", "Times New Roman", serif' font-size="13" fill="#000" stroke="#000" stroke-width="0.18">
<text x="41.5" y="356.3" text-anchor="middle">0</text>
<text x="84.4" y="356.3" text-anchor="middle">0.1</text>
<text x="127.3" y="356.3" text-anchor="middle">0.2</text>
<text x="170.2" y="356.3" text-anchor="middle">0.3</text>
<text x="213.1" y="356.3" text-anchor="middle">0.4</text>
<text x="256" y="356.3" text-anchor="middle">0.5</text>
<text x="37.6" y="238.2" text-anchor="end">10</text>
<text x="37.6" y="280.8" text-anchor="end">0</text>
<text x="37.6" y="323.4" text-anchor="end">-10</text>
</g>
<g font-family='"Liberation Serif", "Times New Roman", serif' font-size="14.4" fill="#000" stroke="#000" stroke-width="0.18">
<text x="87.5" y="207.6">Starting Load (1Nm)</text>
<text x="253.3" y="207.6" text-anchor="end">(c)</text>
<text x="148.75" y="372.8" text-anchor="middle">Time [s]</text>
<text transform="translate(15.9 276.6) rotate(-90)" text-anchor="middle" font-size="14.4">Current [A]</text>
</g>
<rect x="191.5" y="216" width="61" height="31.1" fill="#fff" stroke="#c2c2c2" stroke-width="1.2"/>
<path d="M194.2 224.3h14" stroke="#4fb97c" stroke-width="1.1"/>
<path d="M194.2 239.9h14" stroke="#d36f95" stroke-width="1.1" stroke-dasharray="3.4 2"/>
<g font-family='"Liberation Serif", "Times New Roman", serif' font-size="13" fill="#000" stroke="#000" stroke-width="0.18">
<text x="209.5" y="228.9">Healthy</text>
<text x="209.5" y="243.4">Faulty</text>
</g>
<defs><clipPath id="c3"><rect x="321.7" y="210.7" width="216.1" height="129.9"/></clipPath></defs>
<g clip-path="url(#c3)" fill="none" stroke-linejoin="round">
<path d="M321.8 275.5 L322.16 269.29 L322.52 258.37 L322.88 245.63 L323.24 234.71 L323.6 228.5 L323.97 232.57 L324.34 239.07 L324.71 247.62 L325.08 257.67 L325.45 268.5 L325.82 279.33 L326.19 289.38 L326.56 297.93 L326.93 304.43 L327.3 308.5 L327.66 305 L328.02 299.43 L328.38 292.08 L328.74 283.45 L329.1 274.15 L329.46 264.85 L329.82 256.22 L330.18 248.87 L330.54 243.3 L330.9 239.8 L331.26 242.93 L331.62 247.91 L331.98 254.47 L332.34 262.18 L332.7 270.5 L333.06 278.82 L333.42 286.53 L333.78 293.09 L334.14 298.07 L334.5 301.2 L334.87 297.74 L335.24 292.23 L335.61 284.97 L335.98 276.45 L336.35 267.25 L336.72 258.05 L337.09 249.53 L337.46 242.27 L337.83 236.76 L338.2 233.3 L338.56 236.53 L338.92 241.69 L339.28 248.47 L339.64 256.45 L340 265.05 L340.36 273.65 L340.72 281.63 L341.08 288.41 L341.44 293.57 L341.8 296.8 L342.17 294.38 L342.54 290.53 L342.91 285.45 L343.28 279.48 L343.65 273.05 L344.02 266.62 L344.39 260.65 L344.76 255.57 L345.13 251.72 L345.5 249.3 L345.86 252.83 L346.22 258.45 L346.58 265.86 L346.94 274.56 L347.3 283.95 L347.66 293.34 L348.02 302.04 L348.38 309.45 L348.74 315.07 L349.1 318.6 L349.46 315.7 L349.82 311.07 L350.18 304.98 L350.54 297.82 L350.9 290.1 L351.26 282.38 L351.62 275.22 L351.98 269.13 L352.34 264.5 L352.7 261.6 L353.07 263.88 L353.44 267.5 L353.81 272.28 L354.18 277.9 L354.55 283.95 L354.92 290 L355.29 295.62 L355.66 300.4 L356.03 304.02 L356.4 306.3 L356.76 302.54 L357.12 296.55 L357.48 288.66 L357.84 279.39 L358.2 269.4 L358.56 259.41 L358.92 250.14 L359.28 242.25 L359.64 236.26 L360 232.5 L360.36 235.7 L360.72 240.81 L361.08 247.53 L361.44 255.43 L361.8 263.95 L362.16 272.47 L362.52 280.37 L362.88 287.09 L363.24 292.2 L363.6 295.4 L363.96 293.21 L364.31 289.65 L364.67 284.96 L365.02 279.54 L365.38 273.86 L365.73 268.44 L366.09 263.75 L366.44 260.19 L366.8 258 L367.17 260.73 L367.55 264.98 L367.92 270.58 L368.29 277.23 L368.66 284.53 L369.04 292.07 L369.41 299.37 L369.78 306.02 L370.15 311.62 L370.53 315.87 L370.9 318.6 L371.26 314.81 L371.62 308.77 L371.98 300.82 L372.34 291.48 L372.7 281.4 L373.06 271.32 L373.42 261.98 L373.78 254.03 L374.14 247.99 L374.5 244.2 L374.88 246.85 L375.26 251.17 L375.63 256.85 L376.01 263.41 L376.39 270.29 L376.77 276.85 L377.14 282.53 L377.52 286.85 L377.9 289.5 L378.25 287.66 L378.61 284.78 L378.96 280.99 L379.32 276.49 L379.67 271.55 L380.03 266.45 L380.38 261.51 L380.74 257.01 L381.09 253.22 L381.45 250.34 L381.8 248.5 L382.18 252.52 L382.56 259.07 L382.93 267.68 L383.31 277.64 L383.69 288.06 L384.07 298.02 L384.44 306.63 L384.82 313.18 L385.2 317.2 L385.55 313.75 L385.91 308.36 L386.26 301.28 L386.62 292.87 L386.97 283.62 L387.33 274.08 L387.68 264.83 L388.04 256.42 L388.39 249.34 L388.75 243.95 L389.1 240.5 L389.46 242.99 L389.82 246.97 L390.18 252.21 L390.54 258.36 L390.9 265 L391.26 271.64 L391.62 277.79 L391.98 283.03 L392.34 287.01 L392.7 289.5 L393.07 287.72 L393.43 284.81 L393.8 280.99 L394.17 276.56 L394.53 271.94 L394.9 267.51 L395.27 263.69 L395.63 260.78 L396 259 L396.37 262.02 L396.73 266.94 L397.1 273.41 L397.47 280.88 L397.83 288.72 L398.2 296.19 L398.57 302.66 L398.93 307.58 L399.3 310.6 L399.66 307.32 L400.03 302.19 L400.39 295.44 L400.75 287.44 L401.12 278.64 L401.48 269.56 L401.85 260.76 L402.21 252.76 L402.57 246.01 L402.94 240.88 L403.3 237.6 L403.66 241.39 L404.02 247.44 L404.38 255.4 L404.74 264.76 L405.1 274.85 L405.46 284.94 L405.82 294.3 L406.18 302.26 L406.54 308.31 L406.9 312.1 L407.26 309.49 L407.62 305.34 L407.98 299.86 L408.34 293.43 L408.7 286.5 L409.06 279.57 L409.42 273.14 L409.78 267.66 L410.14 263.51 L410.5 260.9 L410.87 262.06 L411.24 263.91 L411.61 266.35 L411.98 269.21 L412.35 272.3 L412.72 275.39 L413.09 278.25 L413.46 280.69 L413.83 282.54 L414.2 283.7 L414.57 281.6 L414.93 278.18 L415.3 273.68 L415.67 268.47 L416.03 263.03 L416.4 257.82 L416.77 253.32 L417.13 249.9 L417.5 247.8 L417.85 250.85 L418.2 255.71 L418.55 262.11 L418.9 269.64 L419.25 277.75 L419.6 285.86 L419.95 293.39 L420.3 299.79 L420.65 304.65 L421 307.7 L421.38 304.17 L421.76 298.55 L422.14 291.14 L422.52 282.44 L422.9 273.05 L423.28 263.66 L423.66 254.96 L424.04 247.55 L424.42 241.93 L424.8 238.4 L425.15 241.94 L425.51 247.48 L425.86 254.76 L426.22 263.4 L426.57 272.9 L426.93 282.7 L427.28 292.2 L427.64 300.84 L427.99 308.12 L428.35 313.66 L428.7 317.2 L429.07 313.34 L429.44 307.18 L429.81 299.06 L430.18 289.53 L430.55 279.25 L430.92 268.97 L431.29 259.44 L431.66 251.32 L432.03 245.16 L432.4 241.3 L432.76 244.01 L433.12 248.34 L433.48 254.04 L433.84 260.73 L434.2 267.95 L434.56 275.17 L434.92 281.86 L435.28 287.56 L435.64 291.89 L436 294.6 L436.36 293.22 L436.72 291.02 L437.08 288.12 L437.44 284.72 L437.8 281.05 L438.16 277.38 L438.52 273.98 L438.88 271.08 L439.24 268.88 L439.6 267.5 L439.96 269.31 L440.33 272.32 L440.69 276.26 L441.05 280.7 L441.41 285.14 L441.77 289.08 L442.14 292.09 L442.5 293.9 L442.87 291.7 L443.24 288.19 L443.61 283.58 L443.98 278.15 L444.35 272.3 L444.72 266.45 L445.09 261.02 L445.46 256.41 L445.83 252.9 L446.2 250.7 L446.55 253.17 L446.91 257.01 L447.26 262.08 L447.62 268.09 L447.97 274.69 L448.33 281.51 L448.68 288.11 L449.04 294.12 L449.39 299.19 L449.75 303.03 L450.1 305.5 L450.48 302.38 L450.86 297.4 L451.24 290.85 L451.62 283.15 L452 274.85 L452.38 266.55 L452.76 258.85 L453.14 252.3 L453.52 247.32 L453.9 244.2 L454.25 247.19 L454.61 251.85 L454.96 257.99 L455.32 265.27 L455.67 273.27 L456.03 281.53 L456.38 289.53 L456.74 296.81 L457.09 302.95 L457.45 307.61 L457.8 310.6 L458.18 306.63 L458.56 300.16 L458.93 291.64 L459.31 281.8 L459.69 271.5 L460.07 261.66 L460.44 253.14 L460.82 246.67 L461.2 242.7 L461.55 245.69 L461.91 250.36 L462.26 256.51 L462.62 263.8 L462.97 271.82 L463.33 280.08 L463.68 288.1 L464.04 295.39 L464.39 301.54 L464.75 306.21 L465.1 309.2 L465.49 304.87 L465.88 297.65 L466.26 288.23 L466.65 277.6 L467.04 266.97 L467.43 257.55 L467.81 250.33 L468.2 246 L468.58 249.22 L468.96 254.46 L469.33 261.35 L469.71 269.33 L470.09 277.67 L470.47 285.65 L470.84 292.54 L471.22 297.78 L471.6 301 L471.96 298.9 L472.32 295.56 L472.68 291.15 L473.04 285.98 L473.4 280.4 L473.76 274.82 L474.12 269.65 L474.48 265.24 L474.84 261.9 L475.2 259.8 L475.57 260.59 L475.94 261.75 L476.31 263.26 L476.69 265.07 L477.06 267.12 L477.43 269.34 L477.8 271.65 L478.17 273.96 L478.54 276.18 L478.91 278.23 L479.29 280.04 L479.66 281.55 L480.03 282.71 L480.4 283.5 L480.76 282.61 L481.12 281.19 L481.48 279.32 L481.84 277.12 L482.2 274.75 L482.56 272.38 L482.92 270.18 L483.28 268.31 L483.64 266.89 L484 266 L484.36 266.7 L484.72 267.82 L485.08 269.3 L485.44 271.03 L485.8 272.9 L486.16 274.77 L486.52 276.5 L486.88 277.98 L487.24 279.1 L487.6 279.8 L487.97 279.36 L488.34 278.65 L488.71 277.72 L489.08 276.63 L489.45 275.45 L489.82 274.27 L490.19 273.18 L490.56 272.25 L490.93 271.54 L491.3 271.1 L491.66 271.51 L492.02 272.16 L492.38 273.01 L492.74 274.02 L493.1 275.1 L493.46 276.18 L493.82 277.19 L494.18 278.04 L494.54 278.69 L494.9 279.1 L495.26 278.59 L495.61 277.76 L495.97 276.67 L496.32 275.41 L496.68 274.09 L497.03 272.83 L497.39 271.74 L497.74 270.91 L498.1 270.4 L498.46 270.88 L498.82 271.65 L499.18 272.67 L499.54 273.86 L499.9 275.15 L500.26 276.44 L500.62 277.63 L500.98 278.65 L501.34 279.42 L501.7 279.9 L502.05 279.42 L502.41 278.65 L502.77 277.63 L503.13 276.44 L503.49 275.15 L503.85 273.86 L504.21 272.67 L504.57 271.65 L504.93 270.88 L505.29 270.4 L505.65 270.88 L506.01 271.65 L506.37 272.67 L506.73 273.86 L507.09 275.15 L507.45 276.44 L507.81 277.63 L508.17 278.65 L508.53 279.42 L508.89 279.9 L509.24 279.42 L509.6 278.65 L509.96 277.63 L510.32 276.44 L510.68 275.15 L511.04 273.86 L511.4 272.67 L511.76 271.65 L512.12 270.88 L512.48 270.4 L512.84 270.88 L513.2 271.65 L513.56 272.67 L513.92 273.86 L514.28 275.15 L514.64 276.44 L515 277.63 L515.36 278.65 L515.72 279.42 L516.08 279.9 L516.43 279.42 L516.79 278.65 L517.15 277.63 L517.51 276.44 L517.87 275.15 L518.23 273.86 L518.59 272.67 L518.95 271.65 L519.31 270.88 L519.67 270.4 L520.03 270.88 L520.39 271.65 L520.75 272.67 L521.11 273.86 L521.47 275.15 L521.83 276.44 L522.19 277.63 L522.55 278.65 L522.91 279.42 L523.26 279.9 L523.62 279.42 L523.98 278.65 L524.34 277.63 L524.7 276.44 L525.06 275.15 L525.42 273.86 L525.78 272.67 L526.14 271.65 L526.5 270.88 L526.86 270.4 L527.22 270.88 L527.58 271.65 L527.94 272.67 L528.3 273.86 L528.66 275.15 L529.02 276.44 L529.38 277.63 L529.74 278.65 L530.1 279.42 L530.46 279.9 L530.81 279.42 L531.17 278.65 L531.53 277.63 L531.89 276.44 L532.25 275.15 L532.61 273.86 L532.97 272.67 L533.33 271.65 L533.69 270.88 L534.05 270.4 L534.41 270.88 L534.77 271.65 L535.13 272.67 L535.49 273.86 L535.85 275.15 L536.21 276.44 L536.57 277.63 L536.93 278.65 L537.29 279.42 L537.64 279.9 L538 279.42 L538.36 278.65 L538.72 277.63 L539.08 276.44 L539.44 275.15 L539.8 273.86 L540.16 272.67 L540.52 271.65 L540.88 270.88 L541.24 270.4 L541.6 270.88 L541.96 271.65 L542.32 272.67 L542.68 273.86 L543.04 275.15 L543.4 276.44 L543.76 277.63 L544.12 278.65 L544.48 279.42 L544.84 279.9" stroke="#4fb97c" stroke-width="1.3"/>
<path d="M321.8 275.5 L322.16 270.79 L322.52 262.48 L322.88 252.82 L323.24 244.51 L323.6 239.8 L323.97 243.37 L324.34 249.06 L324.71 256.55 L325.08 265.36 L325.45 274.85 L325.82 284.34 L326.19 293.15 L326.56 300.64 L326.93 306.33 L327.3 309.9 L327.66 306.37 L328.02 300.73 L328.38 293.32 L328.74 284.6 L329.1 275.2 L329.46 265.8 L329.82 257.08 L330.18 249.67 L330.54 244.03 L330.9 240.5 L331.26 243.7 L331.62 248.81 L331.98 255.53 L332.34 263.43 L332.7 271.95 L333.06 280.47 L333.42 288.37 L333.78 295.09 L334.14 300.2 L334.5 303.4 L334.87 300.35 L335.24 295.49 L335.61 289.09 L335.98 281.56 L336.35 273.45 L336.72 265.34 L337.09 257.81 L337.46 251.41 L337.83 246.55 L338.2 243.5 L338.56 246.7 L338.92 251.79 L339.28 258.51 L339.64 266.39 L340 274.9 L340.36 283.41 L340.72 291.29 L341.08 298.01 L341.44 303.1 L341.8 306.3 L342.17 303.62 L342.54 299.34 L342.91 293.71 L343.28 287.09 L343.65 279.95 L344.02 272.81 L344.39 266.19 L344.76 260.56 L345.13 256.28 L345.5 253.6 L345.86 257.1 L346.22 262.67 L346.58 270.02 L346.94 278.65 L347.3 287.95 L347.66 297.25 L348.02 305.88 L348.38 313.23 L348.74 318.8 L349.1 322.3 L349.46 318.84 L349.82 313.33 L350.18 306.07 L350.54 297.55 L350.9 288.35 L351.26 279.15 L351.62 270.63 L351.98 263.37 L352.34 257.86 L352.7 254.4 L353.07 256.92 L353.44 260.95 L353.81 266.25 L354.18 272.48 L354.55 279.2 L354.92 285.92 L355.29 292.15 L355.66 297.45 L356.03 301.48 L356.4 304 L356.76 300.73 L357.12 295.52 L357.48 288.66 L357.84 280.59 L358.2 271.9 L358.56 263.21 L358.92 255.14 L359.28 248.28 L359.64 243.07 L360 239.8 L360.36 242.51 L360.72 246.83 L361.08 252.51 L361.44 259.2 L361.8 266.4 L362.16 273.6 L362.52 280.29 L362.88 285.97 L363.24 290.29 L363.6 293 L363.96 290.4 L364.31 286.16 L364.67 280.58 L365.02 274.13 L365.38 267.37 L365.73 260.92 L366.09 255.34 L366.44 251.1 L366.8 248.5 L367.17 251.59 L367.55 256.42 L367.92 262.76 L368.29 270.3 L368.66 278.58 L369.04 287.12 L369.41 295.4 L369.78 302.94 L370.15 309.28 L370.53 314.11 L370.9 317.2 L371.26 314.37 L371.62 309.86 L371.98 303.91 L372.34 296.93 L372.7 289.4 L373.06 281.87 L373.42 274.89 L373.78 268.94 L374.14 264.43 L374.5 261.6 L374.88 263.7 L375.26 267.12 L375.63 271.62 L376.01 276.83 L376.39 282.27 L376.77 287.48 L377.14 291.98 L377.52 295.4 L377.9 297.5 L378.26 294.23 L378.62 289.02 L378.98 282.16 L379.34 274.09 L379.7 265.4 L380.06 256.71 L380.42 248.64 L380.78 241.78 L381.14 236.57 L381.5 233.3 L381.85 237.05 L382.2 243.03 L382.55 250.91 L382.9 260.17 L383.25 270.15 L383.6 280.13 L383.95 289.39 L384.3 297.27 L384.65 303.25 L385 307 L385.37 305.03 L385.75 301.94 L386.12 297.89 L386.49 293.07 L386.86 287.78 L387.24 282.32 L387.61 277.03 L387.98 272.21 L388.35 268.16 L388.73 265.07 L389.1 263.1 L389.46 266.11 L389.83 271.12 L390.19 277.67 L390.55 285.05 L390.91 292.43 L391.27 298.98 L391.64 303.99 L392 307 L392.35 303.67 L392.71 298.47 L393.06 291.64 L393.42 283.52 L393.77 274.6 L394.13 265.4 L394.48 256.48 L394.84 248.36 L395.19 241.53 L395.55 236.33 L395.9 233 L396.26 236.41 L396.62 241.85 L396.98 249.01 L397.34 257.43 L397.7 266.5 L398.06 275.57 L398.42 283.99 L398.78 291.15 L399.14 296.59 L399.5 300 L399.88 298.07 L400.26 294.98 L400.64 290.92 L401.02 286.15 L401.4 281 L401.78 275.85 L402.16 271.08 L402.54 267.02 L402.92 263.93 L403.3 262 L403.66 264.37 L404.02 268.14 L404.38 273.11 L404.74 278.95 L405.1 285.25 L405.46 291.55 L405.82 297.39 L406.18 302.36 L406.54 306.13 L406.9 308.5 L407.28 304.27 L407.66 297.38 L408.03 288.32 L408.41 277.84 L408.79 266.86 L409.17 256.38 L409.54 247.32 L409.92 240.43 L410.3 236.2 L410.68 239.61 L411.06 244.95 L411.45 251.96 L411.83 260.28 L412.21 269.43 L412.59 278.87 L412.97 288.02 L413.35 296.34 L413.74 303.35 L414.12 308.69 L414.5 312.1 L414.86 309.4 L415.21 305.01 L415.57 299.23 L415.92 292.55 L416.28 285.55 L416.63 278.87 L416.99 273.09 L417.34 268.7 L417.7 266 L418.07 268.41 L418.45 272.43 L418.82 277.68 L419.2 283.6 L419.57 289.52 L419.95 294.77 L420.32 298.79 L420.7 301.2 L421.07 298.67 L421.45 294.71 L421.82 289.51 L422.19 283.34 L422.56 276.55 L422.94 269.55 L423.31 262.76 L423.68 256.59 L424.05 251.39 L424.43 247.43 L424.8 244.9 L425.15 248.21 L425.5 253.48 L425.85 260.43 L426.2 268.6 L426.55 277.4 L426.9 286.2 L427.25 294.37 L427.6 301.32 L427.95 306.59 L428.3 309.9 L428.67 306.45 L429.05 301.07 L429.42 294 L429.79 285.6 L430.16 276.36 L430.54 266.84 L430.91 257.6 L431.28 249.2 L431.65 242.13 L432.03 236.75 L432.4 233.3 L432.76 236.75 L433.13 242.13 L433.49 249.2 L433.85 257.6 L434.22 266.84 L434.58 276.36 L434.95 285.6 L435.31 294 L435.67 301.07 L436.04 306.45 L436.4 309.9 L436.77 306.79 L437.15 301.61 L437.52 294.83 L437.9 287.2 L438.27 279.57 L438.65 272.79 L439.02 267.61 L439.4 264.5 L439.79 266.59 L440.17 270.07 L440.56 274.62 L440.95 279.75 L441.34 284.88 L441.73 289.43 L442.11 292.91 L442.5 295 L442.87 292.63 L443.24 288.86 L443.61 283.89 L443.98 278.05 L444.35 271.75 L444.72 265.45 L445.09 259.61 L445.46 254.64 L445.83 250.87 L446.2 248.5 L446.56 251.44 L446.92 256.13 L447.28 262.31 L447.64 269.57 L448 277.4 L448.36 285.23 L448.72 292.49 L449.08 298.67 L449.44 303.36 L449.8 306.3 L450.17 303.31 L450.55 298.64 L450.92 292.49 L451.29 285.2 L451.66 277.18 L452.04 268.92 L452.41 260.9 L452.78 253.61 L453.15 247.46 L453.53 242.79 L453.9 239.8 L454.25 243.21 L454.61 248.55 L454.96 255.56 L455.32 263.88 L455.67 273.03 L456.03 282.47 L456.38 291.62 L456.74 299.94 L457.09 306.95 L457.45 312.29 L457.8 315.7 L458.18 310.96 L458.56 303.24 L458.93 293.09 L459.31 281.35 L459.69 269.05 L460.07 257.31 L460.44 247.16 L460.82 239.44 L461.2 234.7 L461.55 238.08 L461.91 243.37 L462.26 250.31 L462.62 258.56 L462.97 267.63 L463.33 276.97 L463.68 286.04 L464.04 294.29 L464.39 301.23 L464.75 306.52 L465.1 309.9 L465.46 306.39 L465.83 300.55 L466.19 292.91 L466.55 284.3 L466.91 275.69 L467.27 268.05 L467.64 262.21 L468 258.7 L468.36 260.7 L468.72 263.89 L469.08 268.09 L469.44 273.03 L469.8 278.35 L470.16 283.67 L470.52 288.61 L470.88 292.81 L471.24 296 L471.6 298 L471.95 295.82 L472.3 292.33 L472.65 287.75 L473 282.36 L473.35 276.55 L473.7 270.74 L474.05 265.35 L474.4 260.77 L474.75 257.28 L475.1 255.1 L475.49 258.28 L475.88 263.6 L476.26 270.53 L476.65 278.35 L477.04 286.17 L477.43 293.1 L477.81 298.42 L478.2 301.6 L478.58 299.08 L478.96 295.15 L479.35 289.97 L479.73 283.83 L480.11 277.08 L480.49 270.12 L480.87 263.37 L481.25 257.23 L481.64 252.05 L482.02 248.12 L482.4 245.6 L482.78 248.49 L483.16 253.1 L483.54 259.17 L483.92 266.31 L484.3 274 L484.68 281.69 L485.06 288.83 L485.44 294.9 L485.82 299.51 L486.2 302.4 L486.58 299.08 L486.96 293.66 L487.33 286.54 L487.71 278.31 L488.09 269.69 L488.47 261.46 L488.84 254.34 L489.22 248.92 L489.6 245.6 L489.95 248.12 L490.31 252.05 L490.66 257.23 L491.02 263.37 L491.37 270.12 L491.73 277.08 L492.08 283.83 L492.44 289.97 L492.79 295.15 L493.15 299.08 L493.5 301.6 L493.89 297.76 L494.27 291.37 L494.66 283.01 L495.05 273.6 L495.44 264.19 L495.83 255.83 L496.21 249.44 L496.6 245.6 L496.97 247.96 L497.35 251.64 L497.72 256.48 L498.09 262.22 L498.46 268.54 L498.84 275.06 L499.21 281.38 L499.58 287.12 L499.95 291.96 L500.33 295.64 L500.7 298 L501.06 296.61 L501.42 294.49 L501.77 291.7 L502.13 288.37 L502.49 284.66 L502.85 280.75 L503.21 276.84 L503.57 273.13 L503.93 269.8 L504.28 267.01 L504.64 264.89 L505 263.5 L505.38 264.39 L505.75 265.75 L506.12 267.54 L506.5 269.67 L506.88 272.05 L507.25 274.55 L507.62 277.05 L508 279.43 L508.38 281.56 L508.75 283.35 L509.12 284.71 L509.5 285.6 L509.86 284.57 L510.22 282.92 L510.58 280.75 L510.94 278.2 L511.3 275.45 L511.66 272.7 L512.02 270.15 L512.38 267.98 L512.74 266.33 L513.1 265.3 L513.46 266.07 L513.82 267.31 L514.18 268.93 L514.54 270.84 L514.9 272.9 L515.26 274.96 L515.62 276.87 L515.98 278.49 L516.34 279.73 L516.7 280.5 L517.06 279.71 L517.43 278.4 L517.79 276.68 L518.15 274.75 L518.51 272.82 L518.88 271.1 L519.24 269.79 L519.6 269 L519.97 269.56 L520.34 270.45 L520.71 271.63 L521.08 273.01 L521.45 274.5 L521.82 275.99 L522.19 277.37 L522.56 278.55 L522.93 279.44 L523.3 280 L523.66 279.51 L524.02 278.73 L524.38 277.71 L524.74 276.5 L525.1 275.2 L525.46 273.9 L525.82 272.69 L526.18 271.67 L526.54 270.89 L526.9 270.4 L527.26 270.88 L527.62 271.65 L527.98 272.67 L528.34 273.86 L528.7 275.15 L529.06 276.44 L529.42 277.63 L529.78 278.65 L530.14 279.42 L530.5 279.9 L530.85 279.42 L531.21 278.65 L531.57 277.63 L531.93 276.44 L532.29 275.15 L532.65 273.86 L533.01 272.67 L533.37 271.65 L533.73 270.88 L534.09 270.4 L534.45 270.88 L534.81 271.65 L535.17 272.67 L535.53 273.86 L535.89 275.15 L536.25 276.44 L536.61 277.63 L536.97 278.65 L537.33 279.42 L537.68 279.9 L538.04 279.42 L538.4 278.65 L538.76 277.63 L539.12 276.44 L539.48 275.15 L539.84 273.86 L540.2 272.67 L540.56 271.65 L540.92 270.88 L541.28 270.4 L541.64 270.88 L542 271.65 L542.36 272.67 L542.72 273.86 L543.08 275.15 L543.44 276.44 L543.8 277.63 L544.16 278.65 L544.52 279.42 L544.88 279.9" stroke="#d36f95" stroke-width="1.3" stroke-dasharray="3.4 1.9"/>
</g>
<path d="M321.7 340.6v-2.4 M321.7 210.7v2.4 M393.73 340.6v-2.4 M393.73 210.7v2.4 M465.77 340.6v-2.4 M465.77 210.7v2.4 M537.8 340.6v-2.4 M537.8 210.7v2.4 M321.7 318.95h2.4 M537.8 318.95h-2.4 M321.7 275.65h2.4 M537.8 275.65h-2.4 M321.7 232.35h2.4 M537.8 232.35h-2.4" stroke="#9a9a9a" stroke-width="1" fill="none"/>
<rect x="321.7" y="210.7" width="216.1" height="129.9" fill="none" stroke="#c2c2c2" stroke-width="1.9"/>
<g font-family='"Liberation Serif", "Times New Roman", serif' font-size="13" fill="#000" stroke="#000" stroke-width="0.18">
<text x="321.7" y="356.9" text-anchor="middle">0</text>
<text x="393.73" y="356.9" text-anchor="middle">0.2</text>
<text x="465.77" y="356.9" text-anchor="middle">0.4</text>
<text x="537.8" y="356.9" text-anchor="middle">0.6</text>
<text x="317.8" y="236.75" text-anchor="end">10</text>
<text x="317.8" y="280.05" text-anchor="end">0</text>
<text x="317.8" y="323.35" text-anchor="end">-10</text>
</g>
<g font-family='"Liberation Serif", "Times New Roman", serif' font-size="14.6" fill="#000" stroke="#000" stroke-width="0.18">
<text x="367.5" y="206.4">Starting Load (1.5Nm)</text>
<text x="535.3" y="206.4" text-anchor="end">(d)</text>
<text x="429.75" y="373.7" text-anchor="middle">Time [s]</text>
<text transform="translate(296 275) rotate(-90)" text-anchor="middle" font-size="14.6">Current [A]</text>
</g>
<rect x="473" y="213" width="61.5" height="31.9" fill="#fff" stroke="#c2c2c2" stroke-width="1.2"/>
<path d="M475.7 221.7h14" stroke="#4fb97c" stroke-width="1.1"/>
<path d="M475.7 236.9h14" stroke="#d36f95" stroke-width="1.1" stroke-dasharray="3.4 2"/>
<g font-family='"Liberation Serif", "Times New Roman", serif' font-size="13" fill="#000" stroke="#000" stroke-width="0.18">
<text x="491" y="226.4">Healthy</text>
<text x="491" y="240.7">Faulty</text>
</g>
</svg>
</body></html>
